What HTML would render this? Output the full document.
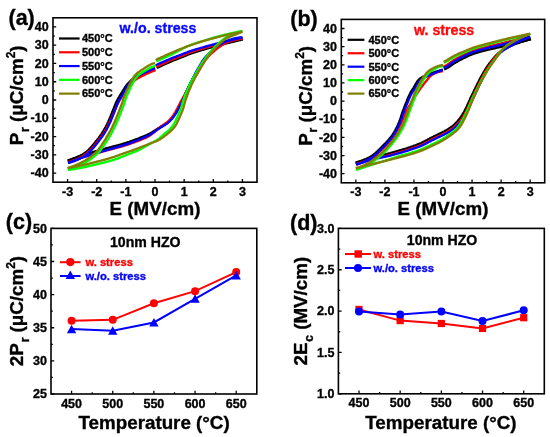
<!DOCTYPE html>
<html><head><meta charset="utf-8"><title>P-E hysteresis</title>
<style>
html,body{margin:0;padding:0;background:#fff;}
body{width:550px;height:437px;overflow:hidden;font-family:"Liberation Sans",sans-serif;}
svg{display:block;will-change:transform;}
</style></head><body>
<svg width="550" height="437" viewBox="0 0 550 437" font-family='"Liberation Sans", sans-serif'>
<rect width="550" height="437" fill="#fff"/>
<defs><clipPath id="ca"><rect x="53" y="17.8" width="204" height="164.4"/></clipPath><clipPath id="cb"><rect x="341.3" y="19.4" width="203.4" height="163.4"/></clipPath></defs>
<rect x="53" y="17.8" width="204" height="164.4" fill="none" stroke="#000" stroke-width="1.6"/>
<path d="M67.57,182.2v-3.2M96.71,182.2v-3.2M125.86,182.2v-3.2M155,182.2v-3.2M184.14,182.2v-3.2M213.29,182.2v-3.2M242.43,182.2v-3.2M82.14,182.2v-1.8M111.29,182.2v-1.8M140.43,182.2v-1.8M169.57,182.2v-1.8M198.71,182.2v-1.8M227.86,182.2v-1.8M53,173.07h3.2M53,154.8h3.2M53,136.53h3.2M53,118.27h3.2M53,100h3.2M53,81.73h3.2M53,63.47h3.2M53,45.2h3.2M53,26.93h3.2M53,163.93h1.8M53,145.67h1.8M53,127.4h1.8M53,109.13h1.8M53,90.87h1.8M53,72.6h1.8M53,54.33h1.8M53,36.07h1.8" stroke="#000" stroke-width="1.3" fill="none"/>
<text x="48.7" y="177.27" font-size="12.5" text-anchor="end" fill="#000" stroke="#000" stroke-width="0.35" font-weight="bold">-40</text>
<text x="48.7" y="159" font-size="12.5" text-anchor="end" fill="#000" stroke="#000" stroke-width="0.35" font-weight="bold">-30</text>
<text x="48.7" y="140.73" font-size="12.5" text-anchor="end" fill="#000" stroke="#000" stroke-width="0.35" font-weight="bold">-20</text>
<text x="48.7" y="122.47" font-size="12.5" text-anchor="end" fill="#000" stroke="#000" stroke-width="0.35" font-weight="bold">-10</text>
<text x="48.7" y="104.2" font-size="12.5" text-anchor="end" fill="#000" stroke="#000" stroke-width="0.35" font-weight="bold">0</text>
<text x="48.7" y="85.93" font-size="12.5" text-anchor="end" fill="#000" stroke="#000" stroke-width="0.35" font-weight="bold">10</text>
<text x="48.7" y="67.67" font-size="12.5" text-anchor="end" fill="#000" stroke="#000" stroke-width="0.35" font-weight="bold">20</text>
<text x="48.7" y="49.4" font-size="12.5" text-anchor="end" fill="#000" stroke="#000" stroke-width="0.35" font-weight="bold">30</text>
<text x="48.7" y="31.13" font-size="12.5" text-anchor="end" fill="#000" stroke="#000" stroke-width="0.35" font-weight="bold">40</text>
<text x="67.57" y="195.8" font-size="12.5" text-anchor="middle" fill="#000" stroke="#000" stroke-width="0.35" font-weight="bold">-3</text>
<text x="96.71" y="195.8" font-size="12.5" text-anchor="middle" fill="#000" stroke="#000" stroke-width="0.35" font-weight="bold">-2</text>
<text x="125.86" y="195.8" font-size="12.5" text-anchor="middle" fill="#000" stroke="#000" stroke-width="0.35" font-weight="bold">-1</text>
<text x="155" y="195.8" font-size="12.5" text-anchor="middle" fill="#000" stroke="#000" stroke-width="0.35" font-weight="bold">0</text>
<text x="184.14" y="195.8" font-size="12.5" text-anchor="middle" fill="#000" stroke="#000" stroke-width="0.35" font-weight="bold">1</text>
<text x="213.29" y="195.8" font-size="12.5" text-anchor="middle" fill="#000" stroke="#000" stroke-width="0.35" font-weight="bold">2</text>
<text x="242.43" y="195.8" font-size="12.5" text-anchor="middle" fill="#000" stroke="#000" stroke-width="0.35" font-weight="bold">3</text>
<rect x="341.3" y="19.4" width="203.4" height="163.4" fill="none" stroke="#000" stroke-width="1.6"/>
<path d="M355.83,182.8v-3.2M384.89,182.8v-3.2M413.94,182.8v-3.2M443,182.8v-3.2M472.06,182.8v-3.2M501.11,182.8v-3.2M530.17,182.8v-3.2M370.36,182.8v-1.8M399.41,182.8v-1.8M428.47,182.8v-1.8M457.53,182.8v-1.8M486.59,182.8v-1.8M515.64,182.8v-1.8M341.3,173.72h3.2M341.3,155.57h3.2M341.3,137.41h3.2M341.3,119.26h3.2M341.3,101.1h3.2M341.3,82.94h3.2M341.3,64.79h3.2M341.3,46.63h3.2M341.3,28.48h3.2M341.3,164.64h1.8M341.3,146.49h1.8M341.3,128.33h1.8M341.3,110.18h1.8M341.3,92.02h1.8M341.3,73.87h1.8M341.3,55.71h1.8M341.3,37.56h1.8" stroke="#000" stroke-width="1.3" fill="none"/>
<text x="337" y="177.92" font-size="12.5" text-anchor="end" fill="#000" stroke="#000" stroke-width="0.35" font-weight="bold">-40</text>
<text x="337" y="159.77" font-size="12.5" text-anchor="end" fill="#000" stroke="#000" stroke-width="0.35" font-weight="bold">-30</text>
<text x="337" y="141.61" font-size="12.5" text-anchor="end" fill="#000" stroke="#000" stroke-width="0.35" font-weight="bold">-20</text>
<text x="337" y="123.46" font-size="12.5" text-anchor="end" fill="#000" stroke="#000" stroke-width="0.35" font-weight="bold">-10</text>
<text x="337" y="105.3" font-size="12.5" text-anchor="end" fill="#000" stroke="#000" stroke-width="0.35" font-weight="bold">0</text>
<text x="337" y="87.14" font-size="12.5" text-anchor="end" fill="#000" stroke="#000" stroke-width="0.35" font-weight="bold">10</text>
<text x="337" y="68.99" font-size="12.5" text-anchor="end" fill="#000" stroke="#000" stroke-width="0.35" font-weight="bold">20</text>
<text x="337" y="50.83" font-size="12.5" text-anchor="end" fill="#000" stroke="#000" stroke-width="0.35" font-weight="bold">30</text>
<text x="337" y="32.68" font-size="12.5" text-anchor="end" fill="#000" stroke="#000" stroke-width="0.35" font-weight="bold">40</text>
<text x="355.83" y="196.4" font-size="12.5" text-anchor="middle" fill="#000" stroke="#000" stroke-width="0.35" font-weight="bold">-3</text>
<text x="384.89" y="196.4" font-size="12.5" text-anchor="middle" fill="#000" stroke="#000" stroke-width="0.35" font-weight="bold">-2</text>
<text x="413.94" y="196.4" font-size="12.5" text-anchor="middle" fill="#000" stroke="#000" stroke-width="0.35" font-weight="bold">-1</text>
<text x="443" y="196.4" font-size="12.5" text-anchor="middle" fill="#000" stroke="#000" stroke-width="0.35" font-weight="bold">0</text>
<text x="472.06" y="196.4" font-size="12.5" text-anchor="middle" fill="#000" stroke="#000" stroke-width="0.35" font-weight="bold">1</text>
<text x="501.11" y="196.4" font-size="12.5" text-anchor="middle" fill="#000" stroke="#000" stroke-width="0.35" font-weight="bold">2</text>
<text x="530.17" y="196.4" font-size="12.5" text-anchor="middle" fill="#000" stroke="#000" stroke-width="0.35" font-weight="bold">3</text>
<rect x="51" y="228.4" width="205.8" height="165.6" fill="none" stroke="#000" stroke-width="1.6"/>
<path d="M71.58,394v-3.2M112.74,394v-3.2M153.9,394v-3.2M195.06,394v-3.2M236.22,394v-3.2M92.16,394v-1.8M133.32,394v-1.8M174.48,394v-1.8M215.64,394v-1.8M51,394h3.2M51,360.88h3.2M51,327.76h3.2M51,294.64h3.2M51,261.52h3.2M51,228.4h3.2M51,377.44h1.8M51,344.32h1.8M51,311.2h1.8M51,278.08h1.8M51,244.96h1.8" stroke="#000" stroke-width="1.3" fill="none"/>
<text x="47" y="398.2" font-size="12.5" text-anchor="end" fill="#000" stroke="#000" stroke-width="0.35" font-weight="bold">25</text>
<text x="47" y="365.08" font-size="12.5" text-anchor="end" fill="#000" stroke="#000" stroke-width="0.35" font-weight="bold">30</text>
<text x="47" y="331.96" font-size="12.5" text-anchor="end" fill="#000" stroke="#000" stroke-width="0.35" font-weight="bold">35</text>
<text x="47" y="298.84" font-size="12.5" text-anchor="end" fill="#000" stroke="#000" stroke-width="0.35" font-weight="bold">40</text>
<text x="47" y="265.72" font-size="12.5" text-anchor="end" fill="#000" stroke="#000" stroke-width="0.35" font-weight="bold">45</text>
<text x="47" y="232.6" font-size="12.5" text-anchor="end" fill="#000" stroke="#000" stroke-width="0.35" font-weight="bold">50</text>
<text x="71.58" y="407.6" font-size="12.5" text-anchor="middle" fill="#000" stroke="#000" stroke-width="0.35" font-weight="bold">450</text>
<text x="112.74" y="407.6" font-size="12.5" text-anchor="middle" fill="#000" stroke="#000" stroke-width="0.35" font-weight="bold">500</text>
<text x="153.9" y="407.6" font-size="12.5" text-anchor="middle" fill="#000" stroke="#000" stroke-width="0.35" font-weight="bold">550</text>
<text x="195.06" y="407.6" font-size="12.5" text-anchor="middle" fill="#000" stroke="#000" stroke-width="0.35" font-weight="bold">600</text>
<text x="236.22" y="407.6" font-size="12.5" text-anchor="middle" fill="#000" stroke="#000" stroke-width="0.35" font-weight="bold">650</text>
<rect x="338.4" y="228.4" width="205.9" height="165.4" fill="none" stroke="#000" stroke-width="1.6"/>
<path d="M358.99,393.8v-3.2M400.17,393.8v-3.2M441.35,393.8v-3.2M482.53,393.8v-3.2M523.71,393.8v-3.2M379.58,393.8v-1.8M420.76,393.8v-1.8M461.94,393.8v-1.8M503.12,393.8v-1.8M338.4,393.8h3.2M338.4,352.45h3.2M338.4,311.1h3.2M338.4,269.75h3.2M338.4,228.4h3.2M338.4,373.12h1.8M338.4,331.77h1.8M338.4,290.43h1.8M338.4,249.08h1.8" stroke="#000" stroke-width="1.3" fill="none"/>
<text x="334.4" y="398" font-size="12.5" text-anchor="end" fill="#000" stroke="#000" stroke-width="0.35" font-weight="bold">1.0</text>
<text x="334.4" y="356.65" font-size="12.5" text-anchor="end" fill="#000" stroke="#000" stroke-width="0.35" font-weight="bold">1.5</text>
<text x="334.4" y="315.3" font-size="12.5" text-anchor="end" fill="#000" stroke="#000" stroke-width="0.35" font-weight="bold">2.0</text>
<text x="334.4" y="273.95" font-size="12.5" text-anchor="end" fill="#000" stroke="#000" stroke-width="0.35" font-weight="bold">2.5</text>
<text x="334.4" y="232.6" font-size="12.5" text-anchor="end" fill="#000" stroke="#000" stroke-width="0.35" font-weight="bold">3.0</text>
<text x="358.99" y="407.4" font-size="12.5" text-anchor="middle" fill="#000" stroke="#000" stroke-width="0.35" font-weight="bold">450</text>
<text x="400.17" y="407.4" font-size="12.5" text-anchor="middle" fill="#000" stroke="#000" stroke-width="0.35" font-weight="bold">500</text>
<text x="441.35" y="407.4" font-size="12.5" text-anchor="middle" fill="#000" stroke="#000" stroke-width="0.35" font-weight="bold">550</text>
<text x="482.53" y="407.4" font-size="12.5" text-anchor="middle" fill="#000" stroke="#000" stroke-width="0.35" font-weight="bold">600</text>
<text x="523.71" y="407.4" font-size="12.5" text-anchor="middle" fill="#000" stroke="#000" stroke-width="0.35" font-weight="bold">650</text>
<text x="8.5" y="25.4" font-size="21.5" text-anchor="start" fill="#000" stroke="#000" stroke-width="0.35" font-weight="bold">(a)</text>
<text x="290.3" y="26" font-size="21.5" text-anchor="start" fill="#000" stroke="#000" stroke-width="0.35" font-weight="bold">(b)</text>
<text x="5.8" y="229.4" font-size="21.5" text-anchor="start" fill="#000" stroke="#000" stroke-width="0.35" font-weight="bold">(c)</text>
<text x="290" y="229.6" font-size="21.5" text-anchor="start" fill="#000" stroke="#000" stroke-width="0.35" font-weight="bold">(d)</text>
<text x="155" y="214.8" font-size="18.8" text-anchor="middle" fill="#000" stroke="#000" stroke-width="0.35" font-weight="bold">E (MV/cm)</text>
<text x="443" y="214.8" font-size="18.8" text-anchor="middle" fill="#000" stroke="#000" stroke-width="0.35" font-weight="bold">E (MV/cm)</text>
<text x="154.1" y="428.6" font-size="18.8" text-anchor="middle" fill="#000" stroke="#000" stroke-width="0.35" font-weight="bold">Temperature (°C)</text>
<text x="440.9" y="428.6" font-size="18.8" text-anchor="middle" fill="#000" stroke="#000" stroke-width="0.35" font-weight="bold">Temperature (°C)</text>
<text transform="translate(23.2,95.3) rotate(-90)" x="0" y="0" font-size="18.8" text-anchor="middle" font-weight="bold" stroke="#000" stroke-width="0.35">P<tspan font-size="12" dx="0.8" dy="5.5">r</tspan><tspan dy="-5.5"> (μC/cm</tspan><tspan font-size="12" dy="-8">2</tspan><tspan dy="8">)</tspan></text>
<text transform="translate(311.6,95.8) rotate(-90)" x="0" y="0" font-size="18.8" text-anchor="middle" font-weight="bold" stroke="#000" stroke-width="0.35">P<tspan font-size="12" dx="0.8" dy="5.5">r</tspan><tspan dy="-5.5"> (μC/cm</tspan><tspan font-size="12" dy="-8">2</tspan><tspan dy="8">)</tspan></text>
<text transform="translate(23.2,311) rotate(-90)" x="0" y="0" font-size="18.8" text-anchor="middle" font-weight="bold" stroke="#000" stroke-width="0.35">2P<tspan font-size="12" dx="0.8" dy="5.5">r</tspan><tspan dy="-5.5"> (μC/cm</tspan><tspan font-size="12" dy="-8">2</tspan><tspan dy="8">)</tspan></text>
<text transform="translate(307.2,311.2) rotate(-90)" x="0" y="0" font-size="18.8" text-anchor="middle" font-weight="bold" stroke="#000" stroke-width="0.35">2E<tspan font-size="12" dx="0.8" dy="5.5">c</tspan><tspan dy="-5.5"> (MV/cm)</tspan></text>
<text x="119.6" y="33" font-size="14.2" text-anchor="start" fill="#0a0aff" stroke="#0a0aff" stroke-width="0.35" font-weight="bold">w./o. stress</text>
<text x="414" y="35.2" font-size="14.2" text-anchor="start" fill="#ff0a0a" stroke="#ff0a0a" stroke-width="0.35" font-weight="bold">w. stress</text>
<text x="110" y="247.3" font-size="14.1" text-anchor="start" fill="#000" stroke="#000" stroke-width="0.35" font-weight="bold">10nm HZO</text>
<text x="406.8" y="245.3" font-size="14.1" text-anchor="start" fill="#000" stroke="#000" stroke-width="0.35" font-weight="bold">10nm HZO</text>
<path d="M59,38.5h20.6" stroke="#000000" stroke-width="2.2"/>
<text x="82" y="42.3" font-size="11" text-anchor="start" fill="#000" stroke="#000" stroke-width="0.35" font-weight="bold">450°C</text>
<path d="M59,52.28h20.6" stroke="#ff0000" stroke-width="2.2"/>
<text x="82" y="56.08" font-size="11" text-anchor="start" fill="#000" stroke="#000" stroke-width="0.35" font-weight="bold">500°C</text>
<path d="M59,66.06h20.6" stroke="#0000ff" stroke-width="2.2"/>
<text x="82" y="69.86" font-size="11" text-anchor="start" fill="#000" stroke="#000" stroke-width="0.35" font-weight="bold">550°C</text>
<path d="M59,79.84h20.6" stroke="#00ff00" stroke-width="2.2"/>
<text x="82" y="83.64" font-size="11" text-anchor="start" fill="#000" stroke="#000" stroke-width="0.35" font-weight="bold">600°C</text>
<path d="M59,93.62h20.6" stroke="#808000" stroke-width="2.2"/>
<text x="82" y="97.42" font-size="11" text-anchor="start" fill="#000" stroke="#000" stroke-width="0.35" font-weight="bold">650°C</text>
<path d="M347.6,39.8h16.8" stroke="#000000" stroke-width="2.2"/>
<text x="368.4" y="43.6" font-size="11" text-anchor="start" fill="#000" stroke="#000" stroke-width="0.35" font-weight="bold">450°C</text>
<path d="M347.6,53.25h16.8" stroke="#ff0000" stroke-width="2.2"/>
<text x="368.4" y="57.05" font-size="11" text-anchor="start" fill="#000" stroke="#000" stroke-width="0.35" font-weight="bold">500°C</text>
<path d="M347.6,66.7h16.8" stroke="#0000ff" stroke-width="2.2"/>
<text x="368.4" y="70.5" font-size="11" text-anchor="start" fill="#000" stroke="#000" stroke-width="0.35" font-weight="bold">550°C</text>
<path d="M347.6,80.15h16.8" stroke="#00ff00" stroke-width="2.2"/>
<text x="368.4" y="83.95" font-size="11" text-anchor="start" fill="#000" stroke="#000" stroke-width="0.35" font-weight="bold">600°C</text>
<path d="M347.6,93.6h16.8" stroke="#808000" stroke-width="2.2"/>
<text x="368.4" y="97.4" font-size="11" text-anchor="start" fill="#000" stroke="#000" stroke-width="0.35" font-weight="bold">650°C</text>
<g clip-path="url(#ca)"><path d="M156.8,68.0 157.4,67.7 158.0,67.5 158.6,67.2 159.2,66.9 159.7,66.6 160.3,66.4 160.9,66.1 161.4,65.8 162.0,65.6 162.6,65.3 163.2,65.0 163.8,64.7 164.3,64.5 164.9,64.2 165.5,63.9 166.1,63.7 166.6,63.4 167.2,63.2 167.8,62.9 168.4,62.7 168.9,62.4 169.5,62.1 170.1,61.9 170.6,61.7 171.2,61.4 171.8,61.2 172.3,60.9 172.9,60.7 173.5,60.5 174.1,60.2 174.6,60.0 175.2,59.8 175.8,59.6 176.4,59.3 176.9,59.1 177.5,58.9 178.1,58.7 178.7,58.4 179.3,58.2 179.8,58.0 180.4,57.7 181.0,57.5 181.6,57.3 182.2,57.0 182.8,56.8 183.4,56.6 183.9,56.3 184.5,56.1 185.1,55.8 185.7,55.6 186.3,55.4 186.8,55.1 187.4,54.9 188.0,54.7 188.5,54.5 189.1,54.2 189.7,54.0 190.2,53.8 190.8,53.6 191.4,53.4 191.9,53.2 192.5,53.0 193.1,52.9 193.6,52.7 194.2,52.5 194.8,52.3 195.4,52.1 195.9,51.9 196.5,51.7 197.1,51.6 197.7,51.4 198.2,51.2 198.8,51.0 199.4,50.9 200.0,50.7 200.6,50.5 201.1,50.3 201.7,50.2 202.3,50.0 202.9,49.8 203.4,49.7 204.0,49.5 204.6,49.3 205.2,49.2 205.8,49.0 206.3,48.8 206.9,48.7 207.5,48.5 208.1,48.3 208.7,48.2 209.2,48.0 209.8,47.8 210.4,47.7 211.0,47.5 211.6,47.4 212.1,47.2 212.7,47.0 213.3,46.9 213.9,46.7 214.5,46.6 215.0,46.4 215.6,46.2 216.2,46.1 216.8,45.9 217.4,45.8 217.9,45.6 218.5,45.5 219.1,45.3 219.7,45.1 220.2,45.0 220.8,44.8 221.4,44.7 222.0,44.5 222.6,44.4 223.1,44.2 223.7,44.1 224.3,43.9 224.9,43.8 225.5,43.6 226.0,43.5 226.6,43.3 227.2,43.2 227.8,43.1 228.4,42.9 228.9,42.8 229.5,42.6 230.1,42.5 230.7,42.3 231.3,42.2 231.8,42.1 232.4,41.9 233.0,41.8 233.6,41.6 234.2,41.5 234.7,41.4 235.3,41.2 235.9,41.1 236.5,40.9 237.0,40.8 237.6,40.7 238.2,40.5 238.8,40.4 239.4,40.3 239.9,40.1 240.5,40.0 241.1,39.9 241.7,39.7 242.3,39.6 242.8,39.5" fill="none" stroke="#000000" stroke-width="2.3" stroke-linejoin="round"/>
<path d="M67.6,160.6 68.2,160.5 68.7,160.4 69.3,160.2 69.9,160.1 70.5,159.9 71.1,159.7 71.7,159.5 72.2,159.3 72.8,159.1 73.4,158.9 74.0,158.7 74.6,158.4 75.1,158.2 75.7,158.0 76.3,157.7 76.9,157.5 77.5,157.2 78.1,156.9 78.6,156.6 79.2,156.3 79.8,156.0 80.4,155.7 81.0,155.4 81.6,155.0 82.1,154.7 82.7,154.3 83.3,153.9 83.9,153.5 84.5,153.1 85.1,152.7 85.6,152.3 86.2,151.8 86.8,151.4 87.4,150.9 88.0,150.3 88.6,149.8 89.1,149.2 89.7,148.6 90.3,148.0 90.9,147.4 91.5,146.7 92.1,146.0 92.6,145.4 93.2,144.7 93.8,144.0 94.4,143.3 95.0,142.5 95.5,141.8 96.1,141.1 96.7,140.4 97.3,139.6 97.9,138.9 98.5,138.1 99.0,137.4 99.6,136.6 100.2,135.8 100.8,134.9 101.4,134.1 102.0,133.2 102.5,132.3 103.1,131.4 103.7,130.4 104.3,129.5 104.9,128.4 105.5,127.3 106.0,126.2 106.6,125.1 107.2,123.9 107.8,122.6 108.4,121.4 109.0,120.1 109.5,118.8 110.1,117.4 110.7,115.9 111.3,114.4 111.9,113.0 112.5,111.5 113.0,110.0 113.6,108.6 114.2,107.1 114.8,105.7 115.4,104.2 115.9,102.9 116.5,101.6 117.1,100.5 117.7,99.4 118.3,98.3 118.9,97.3 119.4,96.4 120.0,95.4 120.6,94.5 121.2,93.5 121.8,92.6 122.4,91.7 122.9,90.7 123.5,89.8 124.1,88.9 124.7,87.9 125.3,87.0 125.9,86.2 126.4,85.4 127.0,84.6 127.6,83.9 128.2,83.3 128.8,82.7 129.4,82.1 129.9,81.5 130.5,80.9 131.1,80.4 131.7,79.9 132.3,79.4 132.9,78.9 133.4,78.4 134.0,78.0 134.6,77.6 135.2,77.2 135.8,76.9 136.3,76.5 136.9,76.2 137.5,75.9 138.1,75.6 138.7,75.3 139.3,75.0 139.8,74.7 140.4,74.5 141.0,74.2 141.6,73.9 142.2,73.7 142.8,73.4 143.3,73.2 143.9,72.9 144.5,72.6 145.1,72.4 145.7,72.1 146.3,71.9 146.8,71.6 147.4,71.3 148.0,71.1 148.6,70.8 149.2,70.6 149.8,70.3 150.3,70.1 150.9,69.8 151.5,69.6 152.1,69.4 152.7,69.1 153.3,68.9 153.8,68.7 154.4,68.4 155.0,68.2" fill="none" stroke="#000000" stroke-width="2.3" stroke-linejoin="round"/>
<path d="M67.6,160.6 68.2,160.4 68.7,160.2 69.3,160.0 69.9,159.7 70.5,159.5 71.1,159.3 71.7,159.1 72.2,158.9 72.8,158.6 73.4,158.4 74.0,158.2 74.6,158.0 75.1,157.8 75.7,157.6 76.3,157.4 76.9,157.1 77.5,156.9 78.1,156.7 78.6,156.5 79.2,156.3 79.8,156.1 80.4,155.9 81.0,155.7 81.6,155.5 82.1,155.3 82.7,155.2 83.3,155.0 83.9,154.8 84.5,154.6 85.1,154.4 85.6,154.2 86.2,154.0 86.8,153.9 87.4,153.7 88.0,153.5 88.6,153.3 89.1,153.2 89.7,153.0 90.3,152.8 90.9,152.6 91.5,152.5 92.1,152.3 92.6,152.1 93.2,152.0 93.8,151.8 94.4,151.6 95.0,151.5 95.5,151.3 96.1,151.1 96.7,151.0 97.3,150.8 97.9,150.6 98.5,150.5 99.0,150.3 99.6,150.1 100.2,150.0 100.8,149.8 101.4,149.6 102.0,149.5 102.5,149.3 103.1,149.2 103.7,149.0 104.3,148.8 104.9,148.7 105.5,148.5 106.0,148.4 106.6,148.2 107.2,148.1 107.8,147.9 108.4,147.8 109.0,147.6 109.5,147.5 110.1,147.3 110.7,147.2 111.3,147.0 111.9,146.9 112.5,146.7 113.0,146.5 113.6,146.4 114.2,146.2 114.8,146.1 115.4,145.9 115.9,145.8 116.5,145.6 117.1,145.5 117.7,145.3 118.3,145.2 118.9,145.0 119.4,144.8 120.0,144.7 120.6,144.5 121.2,144.3 121.8,144.2 122.4,144.0 122.9,143.8 123.5,143.6 124.1,143.5 124.7,143.3 125.3,143.1 125.9,142.9 126.4,142.7 127.0,142.6 127.6,142.4 128.2,142.2 128.8,142.0 129.4,141.8 129.9,141.6 130.5,141.4 131.1,141.2 131.7,141.0 132.3,140.7 132.9,140.5 133.4,140.3 134.0,140.1 134.6,139.9 135.2,139.7 135.8,139.4 136.3,139.2 136.9,139.0 137.5,138.8 138.1,138.6 138.7,138.3 139.3,138.1 139.8,137.9 140.4,137.6 141.0,137.4 141.6,137.2 142.2,136.9 142.8,136.7 143.3,136.5 143.9,136.2 144.5,136.0 145.1,135.7 145.7,135.5 146.3,135.2 146.8,135.0 147.4,134.7 148.0,134.4 148.6,134.2 149.2,133.9 149.8,133.6 150.3,133.3 150.9,133.0 151.5,132.6 152.1,132.3 152.7,131.9 153.3,131.6 153.8,131.2 154.4,130.8 155.0,130.4 155.6,130.0 156.2,129.6 156.7,129.3 157.3,128.9 157.9,128.5 158.5,128.1 159.1,127.8 159.7,127.4 160.2,127.1 160.8,126.7 161.4,126.4 162.0,126.1 162.6,125.8 163.2,125.4 163.7,125.1 164.3,124.7 164.9,124.4 165.5,124.0 166.1,123.6 166.7,123.2 167.2,122.7 167.8,122.2 168.4,121.7 169.0,121.2 169.6,120.7 170.2,120.1 170.7,119.5 171.3,118.9 171.9,118.2 172.5,117.4 173.1,116.7 173.7,115.9 174.2,115.0 174.8,114.1 175.4,113.2 176.0,112.3 176.6,111.3 177.1,110.3 177.7,109.2 178.3,108.1 178.9,107.0 179.5,105.8 180.1,104.7 180.6,103.5 181.2,102.4 181.8,101.2 182.4,100.0 183.0,98.8 183.6,97.6 184.1,96.3 184.7,95.1 185.3,93.8 185.9,92.5 186.5,91.2 187.1,90.0 187.6,88.7 188.2,87.5 188.8,86.3 189.4,85.1 190.0,83.9 190.6,82.8 191.2,81.7 191.8,80.6 192.4,79.5 193.0,78.4 193.6,77.4 194.2,76.3 194.8,75.3 195.5,74.3 196.1,73.2 196.7,72.2 197.3,71.2 197.9,70.2 198.5,69.2 199.1,68.3 199.7,67.3 200.3,66.3 200.9,65.3 201.5,64.3 202.1,63.3 202.7,62.4 203.3,61.5 203.9,60.6 204.5,59.8 205.0,59.1 205.6,58.4 206.2,57.7 206.8,57.1 207.4,56.5 208.0,55.8 208.5,55.2 209.1,54.7 209.7,54.1 210.3,53.6 210.9,53.0 211.4,52.5 212.0,52.0 212.6,51.5 213.2,51.0 213.8,50.5 214.4,50.1 214.9,49.6 215.5,49.1 216.1,48.7 216.7,48.2 217.3,47.8 217.9,47.4 218.4,47.0 219.0,46.6 219.6,46.2 220.2,45.8 220.7,45.5 221.3,45.1 221.9,44.8 222.5,44.5 223.0,44.2 223.6,43.9 224.2,43.6 224.8,43.3 225.4,43.1 225.9,42.8 226.5,42.5 227.1,42.3 227.7,42.0 228.2,41.8 228.8,41.5 229.4,41.3 230.0,41.1 230.5,40.9 231.1,40.7 231.7,40.5 232.2,40.4 232.8,40.2 233.4,40.1 233.9,40.0 234.5,39.8 235.1,39.7 235.7,39.6 236.2,39.5 236.8,39.4 237.4,39.3 238.0,39.2 238.5,39.1 239.1,39.0 239.7,39.0 240.2,38.9 240.8,38.8 241.4,38.8 241.9,38.8 242.5,38.7" fill="none" stroke="#000000" stroke-width="2.3" stroke-linejoin="round"/>
<path d="M156.3,66.9 156.9,66.6 157.5,66.4 158.1,66.1 158.6,65.8 159.2,65.5 159.8,65.3 160.4,65.0 160.9,64.7 161.5,64.4 162.1,64.2 162.7,63.9 163.3,63.6 163.8,63.4 164.4,63.1 165.0,62.8 165.6,62.6 166.1,62.3 166.7,62.0 167.3,61.8 167.9,61.5 168.4,61.3 169.0,61.0 169.6,60.7 170.2,60.5 170.7,60.3 171.3,60.0 171.9,59.8 172.5,59.5 173.0,59.3 173.6,59.1 174.2,58.8 174.8,58.6 175.3,58.4 175.9,58.1 176.5,57.9 177.1,57.7 177.6,57.5 178.2,57.2 178.8,57.0 179.4,56.8 180.0,56.5 180.6,56.3 181.1,56.1 181.7,55.8 182.3,55.6 182.9,55.4 183.5,55.1 184.0,54.9 184.6,54.6 185.2,54.4 185.8,54.2 186.4,53.9 186.9,53.7 187.5,53.5 188.1,53.2 188.7,53.0 189.2,52.8 189.8,52.6 190.4,52.4 190.9,52.2 191.5,52.0 192.1,51.8 192.7,51.6 193.3,51.4 193.8,51.2 194.4,51.1 195.0,50.9 195.6,50.7 196.1,50.5 196.7,50.3 197.3,50.1 197.9,50.0 198.5,49.8 199.0,49.6 199.6,49.4 200.2,49.3 200.8,49.1 201.4,48.9 201.9,48.8 202.5,48.6 203.1,48.4 203.7,48.2 204.3,48.1 204.8,47.9 205.4,47.7 206.0,47.6 206.6,47.4 207.2,47.3 207.7,47.1 208.3,46.9 208.9,46.8 209.5,46.6 210.1,46.4 210.6,46.3 211.2,46.1 211.8,45.9 212.4,45.8 213.0,45.6 213.5,45.5 214.1,45.3 214.7,45.1 215.3,45.0 215.9,44.8 216.4,44.7 217.0,44.5 217.6,44.3 218.2,44.2 218.8,44.0 219.3,43.9 219.9,43.7 220.5,43.6 221.1,43.4 221.7,43.3 222.2,43.1 222.8,43.0 223.4,42.8 224.0,42.7 224.6,42.5 225.2,42.4 225.7,42.2 226.3,42.1 226.9,41.9 227.5,41.8 228.1,41.6 228.6,41.5 229.2,41.4 229.8,41.2 230.4,41.1 231.0,40.9 231.5,40.8 232.1,40.6 232.7,40.5 233.3,40.4 233.9,40.2 234.4,40.1 235.0,39.9 235.6,39.8 236.2,39.7 236.8,39.5 237.3,39.4 237.9,39.3 238.5,39.1 239.1,39.0 239.7,38.9 240.3,38.7 240.8,38.6 241.4,38.5 242.0,38.3 242.6,38.2" fill="none" stroke="#ff0000" stroke-width="2.3" stroke-linejoin="round"/>
<path d="M67.9,162.1 68.5,162.0 69.1,161.8 69.7,161.7 70.3,161.5 70.9,161.3 71.5,161.1 72.1,160.9 72.7,160.7 73.3,160.5 73.9,160.3 74.5,160.0 75.1,159.8 75.7,159.6 76.3,159.3 76.9,159.1 77.5,158.8 78.1,158.5 78.7,158.2 79.3,157.9 79.9,157.6 80.5,157.3 81.1,157.0 81.7,156.6 82.3,156.3 82.9,155.9 83.5,155.5 84.1,155.1 84.7,154.7 85.3,154.3 85.9,153.9 86.5,153.4 87.1,152.9 87.7,152.4 88.3,151.9 88.9,151.4 89.5,150.8 90.1,150.2 90.7,149.6 91.3,148.9 91.9,148.3 92.5,147.6 93.1,147.0 93.7,146.3 94.3,145.6 94.9,144.8 95.4,144.1 96.0,143.4 96.6,142.7 97.2,141.9 97.8,141.2 98.4,140.5 98.9,139.7 99.5,139.0 100.1,138.2 100.7,137.4 101.3,136.5 101.9,135.7 102.5,134.8 103.1,134.0 103.7,133.0 104.3,132.1 104.8,131.1 105.4,130.1 106.0,129.1 106.6,128.0 107.2,126.8 107.8,125.6 108.4,124.4 109.0,123.2 109.6,121.9 110.2,120.6 110.8,119.3 111.5,117.9 112.1,116.5 112.7,115.0 113.4,113.6 114.0,112.1 114.6,110.7 115.3,109.3 115.9,107.8 116.5,106.4 117.1,105.0 117.8,103.7 118.4,102.5 119.0,101.4 119.6,100.4 120.2,99.4 120.8,98.5 121.4,97.5 122.0,96.6 122.6,95.7 123.3,94.8 123.9,93.9 124.5,93.0 125.2,92.1 125.7,91.2 126.3,90.2 126.8,89.3 127.4,88.5 127.9,87.6 128.5,86.9 129.0,86.2 129.5,85.6 130.0,85.0 130.6,84.4 131.1,83.8 131.6,83.2 132.2,82.7 132.7,82.2 133.3,81.7 133.8,81.2 134.3,80.8 134.8,80.3 135.4,79.9 135.9,79.5 136.4,79.2 137.0,78.8 137.5,78.5 138.0,78.2 138.6,77.9 139.1,77.6 139.7,77.3 140.2,77.0 140.8,76.7 141.3,76.4 141.9,76.1 142.5,75.9 143.0,75.6 143.6,75.3 144.2,75.1 144.8,74.8 145.3,74.5 145.9,74.2 146.5,74.0 147.1,73.7 147.6,73.4 148.2,73.2 148.8,72.9 149.4,72.7 150.0,72.4 150.5,72.2 151.1,71.9 151.7,71.7 152.3,71.5 152.8,71.2 153.4,71.0 154.0,70.8 154.6,70.5 155.1,70.3 155.7,70.1" fill="none" stroke="#ff0000" stroke-width="2.3" stroke-linejoin="round"/>
<path d="M68.4,162.7 69.0,162.5 69.5,162.2 70.1,162.0 70.7,161.8 71.3,161.6 71.9,161.3 72.4,161.1 73.0,160.9 73.6,160.7 74.2,160.5 74.7,160.3 75.3,160.1 75.9,159.8 76.5,159.6 77.1,159.4 77.6,159.2 78.2,159.0 78.8,158.8 79.4,158.6 79.9,158.4 80.5,158.2 81.1,158.0 81.7,157.8 82.3,157.6 82.8,157.4 83.4,157.2 84.0,157.1 84.6,156.9 85.1,156.7 85.7,156.5 86.3,156.3 86.9,156.2 87.5,156.0 88.0,155.8 88.6,155.6 89.2,155.4 89.8,155.3 90.3,155.1 90.9,154.9 91.5,154.8 92.1,154.6 92.7,154.4 93.2,154.3 93.8,154.1 94.4,153.9 95.0,153.7 95.6,153.6 96.2,153.4 96.7,153.2 97.3,153.1 97.9,152.9 98.5,152.7 99.1,152.6 99.7,152.4 100.2,152.2 100.8,152.1 101.4,151.9 102.0,151.8 102.5,151.6 103.1,151.4 103.7,151.3 104.3,151.1 104.9,151.0 105.4,150.8 106.0,150.7 106.6,150.5 107.2,150.3 107.8,150.2 108.3,150.0 108.9,149.9 109.5,149.7 110.1,149.6 110.7,149.4 111.3,149.3 111.8,149.1 112.4,149.0 113.0,148.8 113.6,148.7 114.2,148.5 114.8,148.4 115.3,148.2 115.9,148.1 116.5,147.9 117.1,147.7 117.7,147.6 118.3,147.4 118.9,147.3 119.4,147.1 120.0,146.9 120.6,146.8 121.2,146.6 121.8,146.4 122.4,146.3 123.0,146.1 123.6,145.9 124.2,145.8 124.7,145.6 125.3,145.4 125.9,145.2 126.5,145.0 127.1,144.8 127.7,144.6 128.3,144.4 128.9,144.3 129.5,144.1 130.1,143.9 130.7,143.6 131.2,143.4 131.8,143.2 132.4,143.0 133.0,142.8 133.6,142.6 134.2,142.4 134.8,142.2 135.4,141.9 136.0,141.7 136.5,141.5 137.1,141.3 137.7,141.1 138.3,140.8 138.9,140.6 139.5,140.4 140.1,140.1 140.7,139.9 141.2,139.7 141.8,139.4 142.4,139.2 143.0,139.0 143.6,138.7 144.2,138.5 144.8,138.3 145.4,138.0 146.0,137.8 146.5,137.5 147.1,137.2 147.7,136.9 148.3,136.5 148.8,136.2 149.4,135.8 149.9,135.4 150.5,135.1 151.1,134.7 151.6,134.3 152.2,133.8 152.8,133.4 153.3,133.0 153.9,132.5 154.4,132.0 154.9,131.6 155.5,131.1 156.0,130.7 156.5,130.2 157.1,129.7 157.6,129.3 158.1,128.8 158.7,128.4 159.2,128.0 159.7,127.5 160.3,127.1 160.8,126.7 161.3,126.3 161.9,125.9 162.4,125.5 163.0,125.1 163.5,124.7 164.1,124.3 164.6,123.9 165.2,123.6 165.8,123.2 166.3,122.7 166.9,122.3 167.5,121.8 168.0,121.3 168.6,120.8 169.2,120.2 169.7,119.7 170.3,119.1 170.8,118.4 171.4,117.8 172.0,117.0 172.5,116.3 173.1,115.5 173.7,114.6 174.2,113.8 174.8,112.9 175.4,111.9 175.9,111.0 176.5,109.9 177.1,108.8 177.6,107.7 178.2,106.6 178.8,105.5 179.4,104.3 179.9,103.2 180.5,102.0 181.2,100.9 181.8,99.7 182.5,98.6 183.2,97.4 183.9,96.2 184.5,95.0 185.2,93.7 185.9,92.5 186.5,91.3 187.2,90.0 187.9,88.8 188.5,87.6 189.2,86.5 189.9,85.3 190.5,84.2 191.2,83.1 191.9,82.0 192.5,81.0 193.2,79.9 193.9,78.9 194.5,77.9 195.2,76.9 195.9,75.9 196.5,74.9 197.2,73.9 197.8,72.9 198.3,71.8 198.9,70.8 199.5,69.8 200.1,68.8 200.6,67.8 201.2,66.8 201.8,65.8 202.4,64.8 202.9,63.8 203.5,62.9 204.1,62.0 204.6,61.1 205.2,60.4 205.7,59.6 206.3,58.9 206.8,58.3 207.4,57.6 207.9,57.0 208.5,56.4 209.1,55.8 209.6,55.2 210.2,54.6 210.8,54.1 211.3,53.5 211.9,53.0 212.5,52.5 213.0,52.0 213.6,51.5 214.2,51.0 214.7,50.5 215.3,50.0 215.9,49.6 216.4,49.1 217.0,48.7 217.6,48.2 218.1,47.8 218.7,47.4 219.3,47.0 219.8,46.6 220.4,46.2 221.0,45.8 221.5,45.5 222.1,45.1 222.6,44.8 223.2,44.5 223.8,44.2 224.3,43.9 224.9,43.6 225.5,43.3 226.1,43.0 226.6,42.7 227.2,42.5 227.8,42.2 228.3,42.0 228.9,41.7 229.5,41.5 230.0,41.2 230.6,41.0 231.1,40.8 231.7,40.6 232.3,40.5 232.8,40.3 233.4,40.1 233.9,40.0 234.5,39.9 235.1,39.7 235.7,39.6 236.2,39.5 236.8,39.4 237.4,39.2 237.9,39.1 238.5,39.0 239.1,38.9 239.7,38.8 240.2,38.8 240.8,38.7 241.4,38.6 241.9,38.6 242.5,38.5" fill="none" stroke="#ff0000" stroke-width="2.3" stroke-linejoin="round"/>
<path d="M155.6,65.3 156.2,65.0 156.7,64.8 157.3,64.5 157.9,64.2 158.5,63.9 159.1,63.7 159.7,63.4 160.2,63.2 160.8,62.9 161.4,62.6 162.0,62.4 162.6,62.1 163.2,61.8 163.7,61.6 164.3,61.3 164.9,61.1 165.5,60.8 166.1,60.6 166.7,60.3 167.2,60.0 167.8,59.8 168.4,59.6 169.0,59.3 169.6,59.1 170.2,58.8 170.7,58.6 171.3,58.4 171.9,58.1 172.5,57.9 173.1,57.7 173.7,57.5 174.2,57.2 174.8,57.0 175.4,56.8 176.0,56.6 176.6,56.4 177.1,56.1 177.7,55.9 178.3,55.7 178.9,55.5 179.5,55.3 180.1,55.0 180.6,54.8 181.2,54.6 181.8,54.3 182.4,54.1 183.0,53.9 183.6,53.6 184.1,53.4 184.7,53.2 185.3,53.0 185.9,52.7 186.5,52.5 187.1,52.3 187.6,52.1 188.2,51.8 188.8,51.6 189.4,51.4 190.0,51.2 190.6,51.0 191.1,50.8 191.7,50.6 192.3,50.5 192.9,50.3 193.5,50.1 194.1,49.9 194.6,49.7 195.2,49.5 195.8,49.4 196.4,49.2 197.0,49.0 197.5,48.8 198.1,48.7 198.7,48.5 199.3,48.3 199.9,48.2 200.5,48.0 201.0,47.8 201.6,47.7 202.2,47.5 202.8,47.3 203.4,47.2 204.0,47.0 204.5,46.9 205.1,46.7 205.7,46.5 206.3,46.4 206.9,46.2 207.5,46.1 208.0,45.9 208.6,45.7 209.2,45.6 209.8,45.4 210.4,45.3 211.0,45.1 211.5,45.0 212.1,44.8 212.7,44.6 213.3,44.5 213.9,44.3 214.5,44.2 215.0,44.0 215.6,43.9 216.2,43.7 216.8,43.6 217.4,43.4 217.9,43.3 218.5,43.1 219.1,43.0 219.7,42.8 220.3,42.7 220.9,42.5 221.4,42.4 222.0,42.2 222.6,42.1 223.2,41.9 223.8,41.8 224.4,41.7 224.9,41.5 225.5,41.4 226.1,41.2 226.7,41.1 227.3,41.0 227.9,40.8 228.4,40.7 229.0,40.5 229.6,40.4 230.2,40.3 230.8,40.1 231.4,40.0 231.9,39.9 232.5,39.7 233.1,39.6 233.7,39.5 234.3,39.3 234.9,39.2 235.4,39.1 236.0,38.9 236.6,38.8 237.2,38.7 237.8,38.5 238.3,38.4 238.9,38.3 239.5,38.2 240.1,38.0 240.7,37.9 241.3,37.8 241.8,37.7 242.4,37.5" fill="none" stroke="#0000ff" stroke-width="2.3" stroke-linejoin="round"/>
<path d="M68.1,163.0 68.7,162.8 69.3,162.7 69.9,162.5 70.6,162.3 71.2,162.2 71.8,162.0 72.4,161.8 73.0,161.5 73.6,161.3 74.2,161.1 74.8,160.9 75.4,160.6 76.0,160.4 76.6,160.1 77.2,159.9 77.8,159.6 78.4,159.3 79.1,159.0 79.7,158.7 80.3,158.4 80.9,158.0 81.5,157.7 82.1,157.3 82.7,157.0 83.3,156.6 83.9,156.2 84.6,155.8 85.2,155.4 85.8,155.0 86.4,154.5 87.0,154.1 87.6,153.6 88.2,153.1 88.8,152.5 89.5,152.0 90.1,151.4 90.7,150.8 91.3,150.1 91.9,149.5 92.5,148.8 93.1,148.1 93.7,147.5 94.3,146.8 94.9,146.1 95.5,145.3 96.0,144.6 96.6,143.9 97.2,143.2 97.8,142.4 98.4,141.7 99.0,140.9 99.5,140.2 100.1,139.4 100.7,138.6 101.3,137.8 101.9,137.0 102.5,136.1 103.1,135.3 103.7,134.4 104.3,133.4 104.9,132.5 105.5,131.5 106.1,130.5 106.7,129.4 107.3,128.3 107.8,127.1 108.4,125.9 109.0,124.7 109.6,123.5 110.2,122.2 110.8,120.9 111.3,119.5 111.9,118.1 112.5,116.6 113.1,115.1 113.6,113.7 114.2,112.2 114.8,110.7 115.3,109.3 115.9,107.8 116.5,106.4 117.0,104.9 117.6,103.6 118.1,102.4 118.7,101.3 119.2,100.2 119.8,99.2 120.3,98.2 120.9,97.2 121.5,96.3 122.0,95.3 122.6,94.4 123.2,93.5 123.7,92.5 124.3,91.6 124.8,90.6 125.4,89.6 125.9,88.7 126.4,87.8 126.9,86.9 127.4,86.1 127.9,85.3 128.4,84.6 128.9,84.0 129.4,83.3 130.0,82.7 130.5,82.0 131.0,81.4 131.5,80.9 132.1,80.3 132.6,79.8 133.2,79.3 133.7,78.9 134.3,78.4 134.9,78.0 135.4,77.6 136.0,77.2 136.5,76.8 137.1,76.5 137.7,76.1 138.2,75.8 138.8,75.5 139.4,75.2 139.9,74.9 140.5,74.6 141.1,74.3 141.6,74.0 142.2,73.7 142.8,73.4 143.3,73.2 143.9,72.9 144.5,72.6 145.1,72.4 145.7,72.1 146.3,71.9 146.8,71.6 147.4,71.3 148.0,71.1 148.6,70.8 149.2,70.6 149.8,70.3 150.3,70.1 150.9,69.8 151.5,69.6 152.1,69.4 152.7,69.1 153.3,68.9 153.8,68.7 154.4,68.4 155.0,68.2" fill="none" stroke="#0000ff" stroke-width="2.3" stroke-linejoin="round"/>
<path d="M68.4,162.9 69.0,162.6 69.6,162.4 70.2,162.2 70.8,161.9 71.3,161.7 71.9,161.5 72.5,161.3 73.1,161.0 73.6,160.8 74.2,160.6 74.8,160.4 75.4,160.1 75.9,159.9 76.5,159.7 77.1,159.5 77.7,159.3 78.2,159.1 78.8,158.8 79.4,158.6 80.0,158.4 80.5,158.2 81.1,158.0 81.7,157.8 82.2,157.6 82.8,157.4 83.4,157.2 84.0,157.0 84.5,156.8 85.1,156.6 85.7,156.4 86.3,156.3 86.8,156.1 87.4,155.9 88.0,155.7 88.6,155.5 89.2,155.3 89.7,155.2 90.3,155.0 90.9,154.8 91.5,154.6 92.0,154.4 92.6,154.3 93.2,154.1 93.8,153.9 94.4,153.7 94.9,153.5 95.5,153.4 96.1,153.2 96.7,153.0 97.3,152.8 97.8,152.7 98.4,152.5 99.0,152.3 99.6,152.1 100.2,152.0 100.7,151.8 101.3,151.6 101.9,151.5 102.5,151.3 103.0,151.1 103.6,150.9 104.2,150.8 104.8,150.6 105.3,150.5 105.9,150.3 106.5,150.1 107.1,150.0 107.7,149.8 108.2,149.6 108.8,149.5 109.4,149.3 110.0,149.2 110.6,149.0 111.1,148.8 111.7,148.7 112.3,148.5 112.9,148.4 113.5,148.2 114.0,148.0 114.6,147.9 115.2,147.7 115.8,147.6 116.4,147.4 117.0,147.2 117.5,147.1 118.1,146.9 118.7,146.7 119.3,146.5 119.9,146.4 120.5,146.2 121.0,146.0 121.6,145.9 122.2,145.7 122.8,145.5 123.4,145.3 124.0,145.1 124.6,144.9 125.1,144.8 125.7,144.6 126.3,144.4 126.9,144.2 127.5,144.0 128.1,143.8 128.7,143.6 129.2,143.4 129.8,143.2 130.4,142.9 131.0,142.7 131.6,142.5 132.2,142.3 132.7,142.1 133.3,141.9 133.9,141.6 134.5,141.4 135.1,141.2 135.7,141.0 136.2,140.7 136.8,140.5 137.4,140.3 138.0,140.0 138.6,139.8 139.2,139.5 139.7,139.3 140.3,139.1 140.9,138.8 141.5,138.6 142.1,138.3 142.6,138.1 143.2,137.9 143.8,137.6 144.4,137.4 145.0,137.1 145.6,136.9 146.2,136.6 146.7,136.3 147.3,136.0 147.9,135.8 148.5,135.5 149.1,135.2 149.7,134.8 150.2,134.5 150.8,134.2 151.4,133.8 152.0,133.5 152.6,133.1 153.2,132.7 153.7,132.3 154.3,131.9 154.9,131.5 155.5,131.1 156.0,130.7 156.6,130.3 157.2,129.9 157.7,129.5 158.3,129.1 158.9,128.7 159.4,128.4 160.0,128.0 160.6,127.6 161.1,127.3 161.7,126.9 162.3,126.6 162.8,126.2 163.4,125.9 164.0,125.5 164.6,125.2 165.2,124.8 165.8,124.4 166.4,124.0 167.0,123.6 167.6,123.1 168.1,122.6 168.7,122.1 169.3,121.6 169.9,121.0 170.5,120.4 171.1,119.8 171.7,119.2 172.3,118.5 172.9,117.7 173.5,117.0 174.1,116.1 174.6,115.3 175.2,114.4 175.8,113.5 176.4,112.6 177.0,111.6 177.6,110.5 178.2,109.4 178.8,108.3 179.3,107.2 179.9,106.1 180.5,104.9 181.1,103.8 181.7,102.6 182.2,101.4 182.8,100.2 183.3,99.0 183.9,97.7 184.5,96.5 185.0,95.2 185.6,93.9 186.1,92.6 186.7,91.3 187.2,90.1 187.8,88.8 188.3,87.5 188.9,86.3 189.4,85.1 190.0,83.9 190.5,82.8 191.1,81.6 191.7,80.5 192.2,79.4 192.8,78.3 193.3,77.2 193.9,76.1 194.4,75.1 195.0,74.0 195.5,72.9 196.1,71.9 196.7,70.9 197.3,69.9 197.9,68.9 198.5,67.9 199.0,66.9 199.6,65.9 200.2,64.9 200.8,63.8 201.4,62.9 202.0,61.9 202.5,61.0 203.1,60.1 203.7,59.3 204.3,58.5 204.9,57.8 205.5,57.1 206.1,56.4 206.7,55.8 207.2,55.2 207.8,54.6 208.4,54.0 209.0,53.4 209.6,52.8 210.2,52.3 210.8,51.7 211.3,51.2 211.9,50.7 212.5,50.2 213.1,49.7 213.7,49.2 214.3,48.8 214.8,48.3 215.4,47.8 216.0,47.4 216.6,46.9 217.2,46.5 217.8,46.1 218.4,45.6 218.9,45.2 219.5,44.9 220.1,44.5 220.7,44.1 221.3,43.8 221.9,43.4 222.5,43.1 223.1,42.8 223.6,42.5 224.2,42.2 224.8,41.9 225.4,41.7 226.0,41.4 226.6,41.1 227.2,40.8 227.7,40.6 228.3,40.3 228.9,40.1 229.5,39.9 230.1,39.7 230.7,39.5 231.3,39.3 231.9,39.1 232.4,38.9 233.0,38.8 233.6,38.6 234.2,38.5 234.8,38.4 235.4,38.2 236.0,38.1 236.5,38.0 237.1,37.9 237.7,37.8 238.3,37.7 238.9,37.6 239.5,37.5 240.1,37.4 240.6,37.4 241.2,37.3 241.8,37.3 242.4,37.2" fill="none" stroke="#0000ff" stroke-width="2.3" stroke-linejoin="round"/>
<path d="M156.3,61.4 156.8,61.2 157.4,60.9 158.0,60.6 158.6,60.4 159.2,60.1 159.7,59.8 160.3,59.6 160.9,59.3 161.5,59.0 162.1,58.8 162.7,58.5 163.2,58.2 163.8,58.0 164.4,57.7 165.0,57.4 165.6,57.2 166.2,56.9 166.7,56.6 167.3,56.4 167.9,56.1 168.5,55.8 169.1,55.6 169.6,55.3 170.2,55.1 170.8,54.8 171.4,54.6 172.0,54.3 172.5,54.1 173.1,53.8 173.7,53.5 174.2,53.2 174.8,52.9 175.3,52.6 175.9,52.3 176.5,52.0 177.0,51.7 177.6,51.4 178.1,51.1 178.7,50.8 179.2,50.5 179.8,50.2 180.3,49.9 180.9,49.6 181.5,49.3 182.0,49.0 182.6,48.7 183.1,48.4 183.7,48.1 184.3,47.9 184.8,47.6 185.4,47.3 185.9,47.0 186.5,46.7 187.1,46.4 187.6,46.2 188.2,46.0 188.8,45.8 189.4,45.6 190.0,45.3 190.5,45.1 191.1,44.9 191.7,44.7 192.3,44.5 192.9,44.3 193.4,44.1 194.0,43.9 194.6,43.7 195.2,43.5 195.8,43.3 196.3,43.1 196.9,42.9 197.5,42.7 198.1,42.5 198.7,42.3 199.2,42.1 199.8,42.0 200.4,41.8 201.0,41.6 201.6,41.4 202.1,41.2 202.7,41.0 203.3,40.8 203.9,40.7 204.5,40.5 205.1,40.3 205.6,40.1 206.2,39.9 206.8,39.8 207.4,39.6 208.0,39.4 208.5,39.2 209.1,39.1 209.7,38.9 210.3,38.7 210.9,38.6 211.4,38.4 212.0,38.2 212.6,38.1 213.2,37.9 213.8,37.7 214.3,37.6 214.9,37.4 215.5,37.2 216.1,37.1 216.7,36.9 217.3,36.7 217.8,36.6 218.4,36.4 219.0,36.3 219.6,36.1 220.2,35.9 220.7,35.8 221.3,35.6 221.9,35.5 222.5,35.3 223.1,35.2 223.7,35.0 224.2,34.9 224.8,34.7 225.4,34.6 226.0,34.5 226.6,34.3 227.1,34.2 227.7,34.0 228.3,33.9 228.9,33.8 229.5,33.6 230.1,33.5 230.6,33.3 231.2,33.2 231.8,33.1 232.4,33.0 233.0,32.8 233.6,32.7 234.1,32.6 234.7,32.4 235.3,32.3 235.9,32.2 236.5,32.1 237.0,31.9 237.6,31.8 238.2,31.7 238.8,31.6 239.4,31.5 240.0,31.3 240.5,31.2 241.1,31.1 241.7,31.0 242.3,30.9" fill="none" stroke="#00ff00" stroke-width="2.3" stroke-linejoin="round"/>
<path d="M68.0,169.5 68.6,169.4 69.2,169.2 69.8,169.1 70.4,168.9 71.0,168.7 71.6,168.5 72.2,168.3 72.8,168.1 73.4,167.9 74.0,167.7 74.6,167.5 75.2,167.2 75.8,167.0 76.4,166.7 77.0,166.5 77.6,166.2 78.2,166.0 78.8,165.7 79.4,165.4 80.0,165.2 80.6,164.9 81.2,164.6 81.8,164.3 82.4,164.0 83.0,163.7 83.6,163.4 84.2,163.1 84.8,162.8 85.4,162.4 86.0,162.1 86.6,161.8 87.2,161.4 87.8,161.0 88.4,160.6 89.0,160.3 89.6,159.9 90.2,159.4 90.9,159.0 91.5,158.6 92.1,158.1 92.7,157.7 93.3,157.2 93.9,156.7 94.5,156.2 95.1,155.7 95.7,155.2 96.3,154.6 96.9,154.1 97.5,153.5 98.2,152.9 98.8,152.2 99.5,151.5 100.1,150.7 100.7,149.9 101.3,149.1 101.9,148.3 102.5,147.4 103.1,146.5 103.7,145.7 104.3,144.8 104.9,143.9 105.5,143.0 106.1,142.1 106.7,141.2 107.3,140.2 107.9,139.3 108.5,138.3 109.1,137.4 109.7,136.3 110.3,135.3 110.9,134.3 111.5,133.2 112.1,132.1 112.7,131.0 113.2,129.8 113.8,128.6 114.4,127.4 115.0,126.2 115.6,124.9 116.2,123.6 116.8,122.3 117.4,121.0 118.0,119.6 118.6,118.2 119.2,116.8 119.7,115.3 120.3,113.8 120.9,112.3 121.5,110.8 122.1,109.3 122.7,107.7 123.3,106.1 123.9,104.5 124.4,102.7 125.0,100.9 125.6,99.1 126.2,97.5 126.7,96.0 127.3,94.7 127.9,93.4 128.4,92.1 129.0,90.9 129.6,89.6 130.2,88.3 130.8,87.0 131.4,85.8 131.9,84.6 132.5,83.5 133.1,82.5 133.6,81.5 134.2,80.5 134.8,79.5 135.3,78.7 135.9,77.9 136.4,77.3 136.9,76.7 137.4,76.2 137.9,75.7 138.5,75.2 139.0,74.8 139.6,74.4 140.1,73.9 140.7,73.5 141.2,73.1 141.8,72.7 142.4,72.4 142.9,72.0 143.5,71.7 144.1,71.3 144.7,71.0 145.3,70.7 145.9,70.3 146.5,70.0 147.1,69.6 147.7,69.2 148.3,68.9 148.9,68.5 149.4,68.2 149.9,68.0 150.4,67.7 151.0,67.5 151.5,67.2 152.1,67.0 152.6,66.8 153.2,66.6 153.7,66.4 154.2,66.2 154.8,66.1 155.3,65.9 155.8,65.8" fill="none" stroke="#00ff00" stroke-width="2.3" stroke-linejoin="round"/>
<path d="M67.9,169.9 68.5,169.9 69.0,169.8 69.6,169.7 70.2,169.6 70.8,169.5 71.4,169.4 72.0,169.4 72.6,169.3 73.2,169.2 73.8,169.1 74.3,169.0 74.9,168.9 75.5,168.8 76.1,168.7 76.7,168.6 77.3,168.5 77.9,168.4 78.5,168.3 79.1,168.2 79.7,168.1 80.2,168.0 80.8,167.9 81.4,167.8 82.0,167.6 82.6,167.5 83.2,167.4 83.8,167.3 84.4,167.2 85.0,167.0 85.6,166.9 86.2,166.8 86.8,166.6 87.3,166.5 87.9,166.4 88.5,166.2 89.1,166.1 89.7,166.0 90.3,165.8 90.9,165.7 91.5,165.5 92.1,165.4 92.6,165.3 93.2,165.1 93.8,165.0 94.4,164.8 95.0,164.7 95.6,164.6 96.2,164.4 96.7,164.3 97.3,164.1 97.9,164.0 98.5,163.9 99.1,163.7 99.7,163.6 100.3,163.4 100.8,163.3 101.4,163.1 102.0,163.0 102.6,162.9 103.2,162.7 103.8,162.6 104.4,162.4 105.0,162.3 105.6,162.1 106.2,162.0 106.7,161.8 107.3,161.6 107.9,161.5 108.5,161.3 109.1,161.2 109.7,161.0 110.3,160.8 110.9,160.7 111.5,160.5 112.1,160.3 112.7,160.1 113.3,159.9 113.9,159.8 114.5,159.6 115.1,159.4 115.7,159.2 116.3,159.0 116.9,158.8 117.5,158.6 118.1,158.4 118.6,158.2 119.2,157.9 119.8,157.7 120.4,157.5 120.9,157.2 121.5,157.0 122.1,156.8 122.7,156.5 123.2,156.3 123.8,156.1 124.4,155.8 125.0,155.6 125.5,155.4 126.1,155.2 126.7,154.9 127.2,154.7 127.8,154.5 128.4,154.2 129.0,154.0 129.5,153.8 130.1,153.6 130.7,153.3 131.3,153.1 131.8,152.9 132.4,152.7 133.0,152.4 133.6,152.2 134.2,152.0 134.7,151.8 135.3,151.5 135.9,151.3 136.5,151.1 137.0,150.8 137.6,150.6 138.2,150.4 138.8,150.1 139.3,149.8 139.9,149.5 140.4,149.2 141.0,148.9 141.6,148.6 142.1,148.3 142.7,148.0 143.2,147.6 143.8,147.3 144.4,147.0 144.9,146.7 145.5,146.4 146.0,146.1 146.6,145.7 147.1,145.4 147.7,145.1 148.2,144.8 148.8,144.5 149.3,144.2 149.9,143.9 150.4,143.6 151.0,143.3 151.5,143.0 152.1,142.7 152.6,142.5 153.2,142.2 153.7,141.9 154.3,141.6 154.8,141.3 155.4,141.0 155.9,140.7 156.5,140.3 157.0,140.0 157.5,139.6 158.0,139.3 158.5,138.9 159.1,138.5 159.6,138.1 160.1,137.6 160.6,137.2 161.1,136.7 161.6,136.3 162.2,135.8 162.7,135.3 163.2,134.9 163.8,134.4 164.3,134.0 164.9,133.5 165.5,133.0 166.0,132.5 166.6,132.0 167.2,131.6 167.7,131.1 168.3,130.6 168.8,130.1 169.4,129.6 169.9,129.0 170.4,128.5 171.0,127.9 171.5,127.4 172.0,126.7 172.5,126.1 173.1,125.4 173.5,124.6 174.1,123.7 174.6,122.7 175.1,121.6 175.7,120.4 176.2,119.2 176.8,117.9 177.4,116.7 177.9,115.4 178.5,114.1 179.0,112.8 179.6,111.4 180.2,109.9 180.8,108.4 181.4,106.6 182.0,104.6 182.6,102.4 183.3,100.3 183.9,98.5 184.5,96.8 185.1,95.1 185.8,93.6 186.4,92.1 187.0,90.6 187.6,89.2 188.3,87.8 188.9,86.4 189.5,85.1 190.1,83.8 190.8,82.6 191.4,81.3 192.0,80.1 192.6,79.0 193.2,77.8 193.9,76.7 194.5,75.6 195.1,74.5 195.7,73.5 196.3,72.4 197.0,71.4 197.6,70.4 198.2,69.4 198.8,68.4 199.4,67.4 200.0,66.4 200.5,65.4 201.1,64.5 201.7,63.5 202.3,62.6 202.9,61.7 203.5,60.8 204.1,59.9 204.7,59.1 205.3,58.3 205.9,57.4 206.5,56.7 207.1,55.9 207.7,55.1 208.3,54.4 208.9,53.7 209.5,52.9 210.1,52.2 210.7,51.5 211.2,50.8 211.8,50.2 212.4,49.5 213.0,48.8 213.6,48.2 214.2,47.6 214.8,46.9 215.4,46.3 216.0,45.7 216.6,45.2 217.2,44.6 217.8,44.1 218.4,43.5 219.0,43.0 219.6,42.4 220.2,41.9 220.8,41.4 221.4,40.9 222.0,40.4 222.6,39.9 223.2,39.4 223.8,39.0 224.4,38.5 225.0,38.1 225.6,37.7 226.2,37.4 226.8,37.1 227.4,36.8 228.0,36.5 228.6,36.2 229.2,36.0 229.8,35.7 230.4,35.5 231.0,35.3 231.6,35.1 232.2,34.9 232.8,34.7 233.4,34.5 234.0,34.3 234.5,34.1 235.1,33.8 235.7,33.6 236.3,33.4 236.8,33.1 237.4,32.9 238.0,32.7 238.6,32.4 239.2,32.2 239.8,31.9 240.4,31.7 240.9,31.4 241.5,31.2 242.1,30.9" fill="none" stroke="#00ff00" stroke-width="2.3" stroke-linejoin="round"/>
<path d="M155.6,60.0 156.2,59.7 156.7,59.5 157.3,59.2 157.9,58.9 158.5,58.7 159.1,58.4 159.7,58.1 160.2,57.9 160.8,57.6 161.4,57.3 162.0,57.0 162.6,56.8 163.2,56.5 163.7,56.2 164.3,56.0 164.9,55.7 165.5,55.4 166.1,55.2 166.7,54.9 167.2,54.6 167.8,54.4 168.4,54.1 169.0,53.9 169.6,53.6 170.2,53.3 170.7,53.1 171.3,52.8 171.9,52.6 172.5,52.3 173.1,52.1 173.7,51.8 174.2,51.6 174.8,51.3 175.4,51.1 176.0,50.9 176.6,50.6 177.1,50.4 177.7,50.1 178.3,49.9 178.9,49.7 179.5,49.4 180.1,49.2 180.6,48.9 181.2,48.7 181.8,48.5 182.4,48.3 183.0,48.0 183.6,47.8 184.1,47.6 184.7,47.3 185.3,47.1 185.9,46.9 186.5,46.7 187.1,46.4 187.6,46.2 188.2,46.0 188.8,45.8 189.4,45.6 190.0,45.4 190.6,45.2 191.1,45.0 191.7,44.8 192.3,44.6 192.9,44.4 193.5,44.2 194.1,44.0 194.6,43.8 195.2,43.6 195.8,43.4 196.4,43.2 197.0,43.1 197.5,42.9 198.1,42.7 198.7,42.5 199.3,42.3 199.9,42.1 200.5,42.0 201.0,41.8 201.6,41.6 202.2,41.4 202.8,41.2 203.4,41.1 204.0,40.9 204.5,40.7 205.1,40.6 205.7,40.4 206.3,40.2 206.9,40.0 207.5,39.9 208.0,39.7 208.6,39.5 209.2,39.4 209.8,39.2 210.4,39.1 211.0,38.9 211.5,38.7 212.1,38.6 212.7,38.4 213.3,38.3 213.9,38.1 214.5,37.9 215.0,37.8 215.6,37.6 216.2,37.5 216.8,37.3 217.4,37.2 217.9,37.0 218.5,36.9 219.1,36.7 219.7,36.6 220.3,36.4 220.9,36.3 221.4,36.1 222.0,36.0 222.6,35.8 223.2,35.7 223.8,35.6 224.4,35.4 224.9,35.3 225.5,35.1 226.1,35.0 226.7,34.9 227.3,34.7 227.9,34.6 228.4,34.5 229.0,34.3 229.6,34.2 230.2,34.1 230.8,34.0 231.4,33.8 231.9,33.7 232.5,33.6 233.1,33.5 233.7,33.4 234.3,33.2 234.9,33.1 235.4,33.0 236.0,32.9 236.6,32.8 237.2,32.7 237.8,32.5 238.3,32.4 238.9,32.3 239.5,32.2 240.1,32.1 240.7,32.0 241.3,31.9 241.8,31.8 242.4,31.7" fill="none" stroke="#808000" stroke-width="2.3" stroke-linejoin="round"/>
<path d="M67.6,168.0 68.2,167.8 68.7,167.7 69.3,167.5 69.9,167.3 70.5,167.1 71.1,166.9 71.7,166.8 72.2,166.5 72.8,166.3 73.4,166.1 74.0,165.9 74.6,165.7 75.1,165.4 75.7,165.2 76.3,164.9 76.9,164.7 77.5,164.4 78.1,164.1 78.6,163.8 79.2,163.6 79.8,163.3 80.4,163.0 81.0,162.7 81.6,162.4 82.1,162.1 82.7,161.8 83.3,161.5 83.9,161.2 84.5,160.8 85.1,160.5 85.6,160.2 86.2,159.8 86.8,159.4 87.4,159.1 88.0,158.7 88.6,158.3 89.1,157.9 89.7,157.5 90.3,157.0 90.9,156.6 91.5,156.1 92.1,155.7 92.6,155.2 93.2,154.7 93.8,154.2 94.4,153.7 95.0,153.2 95.5,152.6 96.1,152.1 96.7,151.5 97.3,150.8 97.9,150.2 98.5,149.4 99.0,148.7 99.6,147.9 100.2,147.1 100.8,146.2 101.4,145.4 102.0,144.5 102.5,143.6 103.1,142.7 103.7,141.8 104.3,140.9 104.9,140.0 105.5,139.1 106.0,138.2 106.6,137.2 107.2,136.2 107.8,135.2 108.4,134.2 109.0,133.2 109.5,132.1 110.1,131.1 110.7,130.0 111.3,128.8 111.9,127.7 112.5,126.5 113.0,125.2 113.6,124.0 114.2,122.7 114.8,121.4 115.4,120.1 115.9,118.7 116.5,117.4 117.1,115.9 117.7,114.5 118.3,113.0 118.9,111.6 119.4,110.0 120.0,108.5 120.6,107.0 121.2,105.4 121.8,103.8 122.4,102.1 122.9,100.2 123.5,98.4 124.1,96.7 124.7,95.2 125.3,93.8 125.9,92.5 126.4,91.2 127.0,89.9 127.6,88.7 128.2,87.4 128.8,86.1 129.4,84.8 129.9,83.6 130.5,82.5 131.1,81.4 131.7,80.3 132.3,79.3 132.9,78.4 133.4,77.4 134.0,76.6 134.6,75.8 135.2,75.1 135.8,74.5 136.3,74.0 136.9,73.5 137.5,73.0 138.1,72.5 138.7,72.0 139.3,71.6 139.8,71.2 140.4,70.8 141.0,70.4 141.6,70.0 142.2,69.6 142.8,69.2 143.3,68.9 143.9,68.5 144.5,68.2 145.1,67.8 145.7,67.4 146.3,67.0 146.8,66.7 147.4,66.3 148.0,65.9 148.6,65.6 149.2,65.3 149.8,65.0 150.3,64.7 150.9,64.4 151.5,64.2 152.1,63.9 152.7,63.7 153.3,63.5 153.8,63.3 154.4,63.1 155.0,62.9" fill="none" stroke="#808000" stroke-width="2.3" stroke-linejoin="round"/>
<path d="M67.6,168.0 68.2,167.9 68.7,167.8 69.3,167.7 69.9,167.6 70.5,167.5 71.1,167.4 71.7,167.3 72.2,167.2 72.8,167.1 73.4,167.0 74.0,166.9 74.6,166.8 75.1,166.7 75.7,166.6 76.3,166.5 76.9,166.4 77.5,166.3 78.1,166.2 78.6,166.0 79.2,165.9 79.8,165.8 80.4,165.7 81.0,165.6 81.6,165.5 82.1,165.3 82.7,165.2 83.3,165.1 83.9,164.9 84.5,164.8 85.1,164.7 85.6,164.5 86.2,164.4 86.8,164.3 87.4,164.1 88.0,164.0 88.6,163.8 89.1,163.7 89.7,163.5 90.3,163.4 90.9,163.2 91.5,163.1 92.1,162.9 92.6,162.8 93.2,162.6 93.8,162.5 94.4,162.3 95.0,162.2 95.5,162.0 96.1,161.9 96.7,161.7 97.3,161.6 97.9,161.4 98.5,161.3 99.0,161.1 99.6,161.0 100.2,160.8 100.8,160.7 101.4,160.5 102.0,160.4 102.5,160.2 103.1,160.1 103.7,159.9 104.3,159.8 104.9,159.6 105.5,159.4 106.0,159.3 106.6,159.1 107.2,158.9 107.8,158.8 108.4,158.6 109.0,158.4 109.5,158.3 110.1,158.1 110.7,157.9 111.3,157.7 111.9,157.5 112.5,157.4 113.0,157.2 113.6,157.0 114.2,156.8 114.8,156.6 115.4,156.4 115.9,156.2 116.5,156.0 117.1,155.8 117.7,155.5 118.3,155.3 118.9,155.1 119.4,154.9 120.0,154.7 120.6,154.5 121.2,154.3 121.8,154.1 122.4,153.9 122.9,153.7 123.5,153.4 124.1,153.2 124.7,153.0 125.3,152.8 125.9,152.6 126.4,152.4 127.0,152.2 127.6,152.0 128.2,151.8 128.8,151.6 129.4,151.4 129.9,151.2 130.5,151.0 131.1,150.8 131.7,150.6 132.3,150.4 132.9,150.2 133.4,149.9 134.0,149.7 134.6,149.5 135.2,149.3 135.8,149.1 136.3,148.9 136.9,148.7 137.5,148.5 138.1,148.3 138.7,148.0 139.3,147.8 139.8,147.6 140.4,147.4 141.0,147.2 141.6,146.9 142.2,146.7 142.8,146.5 143.3,146.2 143.9,146.0 144.5,145.7 145.1,145.5 145.7,145.3 146.3,145.0 146.8,144.8 147.4,144.5 148.0,144.3 148.6,144.1 149.2,143.8 149.8,143.6 150.3,143.4 150.9,143.1 151.5,142.9 152.1,142.7 152.7,142.5 153.3,142.3 153.8,142.1 154.4,141.9 155.0,141.7 155.6,141.5 156.2,141.3 156.7,141.0 157.3,140.7 157.9,140.4 158.5,140.1 159.1,139.8 159.7,139.5 160.2,139.1 160.8,138.8 161.4,138.4 162.0,138.0 162.6,137.6 163.2,137.2 163.7,136.8 164.3,136.3 164.9,135.9 165.5,135.4 166.1,135.0 166.7,134.5 167.2,134.0 167.8,133.5 168.4,133.1 169.0,132.6 169.6,132.1 170.2,131.6 170.7,131.1 171.3,130.5 171.9,130.0 172.5,129.4 173.1,128.8 173.7,128.1 174.2,127.4 174.8,126.7 175.4,125.8 176.0,124.8 176.6,123.8 177.1,122.6 177.7,121.4 178.3,120.2 178.9,118.9 179.5,117.6 180.1,116.4 180.6,115.1 181.2,113.7 181.8,112.3 182.4,110.8 183.0,109.1 183.6,107.3 184.1,105.1 184.7,103.0 185.3,100.9 185.9,99.1 186.5,97.5 187.1,95.8 187.6,94.3 188.2,92.8 188.8,91.3 189.4,89.9 190.0,88.5 190.6,87.2 191.1,85.8 191.7,84.6 192.3,83.3 192.9,82.1 193.5,80.9 194.1,79.7 194.6,78.5 195.2,77.4 195.8,76.3 196.4,75.2 197.0,74.1 197.5,73.1 198.1,72.0 198.7,71.0 199.3,70.0 199.9,69.0 200.5,68.0 201.0,67.1 201.6,66.1 202.2,65.1 202.8,64.2 203.4,63.3 204.0,62.4 204.5,61.5 205.1,60.6 205.7,59.8 206.3,59.0 206.9,58.2 207.5,57.4 208.0,56.6 208.6,55.9 209.2,55.1 209.8,54.4 210.4,53.7 211.0,53.0 211.5,52.3 212.1,51.6 212.7,50.9 213.3,50.2 213.9,49.6 214.5,48.9 215.0,48.3 215.6,47.7 216.2,47.1 216.8,46.5 217.4,45.9 217.9,45.4 218.5,44.8 219.1,44.3 219.7,43.7 220.3,43.2 220.9,42.7 221.4,42.2 222.0,41.6 222.6,41.1 223.2,40.7 223.8,40.2 224.4,39.8 224.9,39.3 225.5,39.0 226.1,38.6 226.7,38.2 227.3,37.9 227.9,37.6 228.4,37.4 229.0,37.1 229.6,36.8 230.2,36.6 230.8,36.4 231.4,36.2 231.9,36.0 232.5,35.7 233.1,35.5 233.7,35.3 234.3,35.1 234.9,34.9 235.4,34.7 236.0,34.4 236.6,34.2 237.2,33.9 237.8,33.7 238.3,33.4 238.9,33.2 239.5,32.9 240.1,32.7 240.7,32.4 241.3,32.2 241.8,31.9 242.4,31.7" fill="none" stroke="#808000" stroke-width="2.3" stroke-linejoin="round"/></g>
<g clip-path="url(#cb)"><path d="M444.1,69.4 444.7,69.2 445.4,68.9 446.0,68.7 446.7,68.3 447.3,68.0 447.9,67.6 448.5,67.3 449.1,66.9 449.7,66.5 450.3,66.0 450.9,65.6 451.5,65.2 452.1,64.8 452.7,64.4 453.2,64.0 453.8,63.6 454.3,63.3 454.9,62.9 455.5,62.6 456.0,62.3 456.6,61.9 457.2,61.6 457.8,61.3 458.3,61.0 458.9,60.6 459.5,60.3 460.1,60.0 460.6,59.7 461.2,59.4 461.8,59.1 462.4,58.8 462.9,58.5 463.5,58.2 464.1,58.0 464.7,57.7 465.3,57.4 465.8,57.1 466.4,56.8 467.0,56.6 467.6,56.3 468.1,56.0 468.7,55.7 469.3,55.5 469.8,55.2 470.4,55.0 471.0,54.8 471.5,54.5 472.1,54.3 472.7,54.1 473.2,53.9 473.8,53.7 474.4,53.5 474.9,53.3 475.5,53.1 476.1,53.0 476.6,52.8 477.2,52.6 477.8,52.5 478.4,52.3 478.9,52.1 479.5,52.0 480.1,51.8 480.7,51.7 481.2,51.5 481.8,51.3 482.4,51.2 483.0,51.0 483.6,50.9 484.1,50.7 484.7,50.6 485.3,50.4 485.9,50.3 486.5,50.1 487.0,50.0 487.6,49.8 488.2,49.7 488.8,49.6 489.4,49.4 489.9,49.3 490.5,49.2 491.1,49.0 491.7,48.9 492.3,48.8 492.8,48.6 493.4,48.5 494.0,48.4 494.6,48.3 495.2,48.1 495.7,48.0 496.3,47.9 496.9,47.7 497.5,47.6 498.1,47.5 498.7,47.4 499.2,47.2 499.8,47.1 500.4,47.0 501.0,46.9 501.6,46.7 502.2,46.6 502.7,46.5 503.3,46.3 503.9,46.2 504.5,46.1 505.1,45.9 505.7,45.8 506.3,45.7 506.8,45.5 507.4,45.4 508.0,45.3 508.6,45.1 509.2,45.0 509.8,44.8 510.4,44.7 511.0,44.5 511.5,44.4 512.1,44.2 512.7,44.1 513.3,43.9 513.9,43.8 514.5,43.6 515.1,43.5 515.6,43.3 516.2,43.2 516.8,43.0 517.4,42.9 518.0,42.7 518.6,42.6 519.2,42.4 519.7,42.3 520.3,42.1 520.9,41.9 521.5,41.8 522.1,41.6 522.7,41.5 523.3,41.3 523.8,41.1 524.4,41.0 525.0,40.8 525.6,40.6 526.2,40.5 526.8,40.3 527.4,40.1 527.9,40.0 528.5,39.8 529.1,39.6 529.7,39.5 530.3,39.3 530.9,39.1" fill="none" stroke="#000000" stroke-width="2.3" stroke-linejoin="round"/>
<path d="M355.7,162.8 356.3,162.7 356.9,162.6 357.4,162.4 358.0,162.3 358.6,162.1 359.1,161.9 359.7,161.7 360.3,161.6 360.8,161.3 361.4,161.1 362.0,160.9 362.5,160.7 363.1,160.4 363.7,160.2 364.3,159.9 364.8,159.6 365.4,159.4 366.0,159.1 366.6,158.8 367.1,158.5 367.7,158.2 368.3,157.9 368.9,157.6 369.4,157.3 370.0,156.9 370.6,156.6 371.1,156.3 371.7,155.9 372.3,155.5 372.8,155.1 373.4,154.7 374.0,154.2 374.5,153.8 375.1,153.3 375.7,152.8 376.2,152.3 376.8,151.8 377.4,151.3 377.9,150.7 378.5,150.2 379.1,149.6 379.7,149.1 380.2,148.5 380.8,147.9 381.4,147.3 382.0,146.7 382.5,146.1 383.1,145.5 383.7,144.9 384.3,144.4 384.8,143.8 385.4,143.2 386.0,142.6 386.6,142.0 387.1,141.3 387.7,140.7 388.3,140.1 388.9,139.5 389.4,138.8 390.0,138.1 390.6,137.4 391.1,136.7 391.7,135.9 392.3,135.2 392.8,134.3 393.4,133.5 393.9,132.6 394.5,131.6 395.1,130.6 395.6,129.5 396.2,128.4 396.8,127.3 397.4,126.1 397.9,124.9 398.5,123.6 399.1,122.2 399.6,120.7 400.2,119.1 400.8,117.4 401.3,115.7 401.9,113.9 402.5,112.2 403.1,110.5 403.7,108.9 404.2,107.4 404.8,105.9 405.4,104.4 406.0,103.0 406.6,101.6 407.1,100.2 407.7,98.7 408.3,97.3 408.9,95.9 409.5,94.7 410.1,93.5 410.6,92.4 411.2,91.4 411.8,90.5 412.4,89.6 413.0,88.7 413.6,87.8 414.1,86.9 414.7,85.9 415.3,84.9 415.8,83.8 416.4,82.8 417.0,81.9 417.6,81.0 418.3,80.2 418.9,79.4 419.6,78.9 420.2,78.4 420.8,78.0 421.5,77.6 422.1,77.2 422.7,76.9 423.3,76.6 423.9,76.3 424.5,76.0 425.1,75.7 425.7,75.5 426.3,75.2 426.9,75.0 427.5,74.8 428.1,74.6 428.7,74.3 429.3,74.1 429.9,73.9 430.5,73.6 431.1,73.4 431.7,73.2 432.3,73.0 432.8,72.7 433.4,72.5 434.0,72.3 434.6,72.1 435.2,71.9 435.8,71.7 436.4,71.5 437.0,71.3 437.6,71.1 438.2,70.9 438.8,70.8 439.4,70.6 439.9,70.4 440.5,70.3 441.1,70.1 441.7,69.9 442.3,69.8 442.9,69.7" fill="none" stroke="#000000" stroke-width="2.3" stroke-linejoin="round"/>
<path d="M355.6,162.8 356.2,162.6 356.8,162.4 357.4,162.2 357.9,161.9 358.5,161.7 359.1,161.5 359.7,161.3 360.3,161.1 360.9,160.9 361.4,160.7 362.0,160.5 362.6,160.3 363.2,160.1 363.8,159.9 364.4,159.7 364.9,159.5 365.5,159.3 366.1,159.1 366.7,158.9 367.3,158.8 367.9,158.6 368.4,158.4 369.0,158.2 369.6,158.1 370.2,157.9 370.8,157.7 371.4,157.6 371.9,157.4 372.5,157.3 373.1,157.1 373.7,157.0 374.3,156.8 374.9,156.7 375.5,156.5 376.0,156.4 376.6,156.3 377.2,156.1 377.8,156.0 378.4,155.9 378.9,155.8 379.5,155.6 380.1,155.5 380.7,155.4 381.3,155.2 381.9,155.1 382.4,155.0 383.0,154.9 383.6,154.7 384.2,154.6 384.8,154.5 385.3,154.3 385.9,154.2 386.5,154.1 387.1,153.9 387.6,153.8 388.2,153.6 388.8,153.5 389.4,153.3 390.0,153.2 390.5,153.0 391.1,152.9 391.7,152.7 392.3,152.5 392.9,152.4 393.4,152.2 394.0,152.1 394.6,151.9 395.2,151.7 395.8,151.6 396.3,151.4 396.9,151.2 397.5,151.1 398.1,150.9 398.7,150.7 399.2,150.6 399.8,150.4 400.4,150.2 401.0,150.1 401.6,149.9 402.1,149.7 402.7,149.5 403.3,149.4 403.9,149.2 404.5,149.0 405.0,148.8 405.6,148.7 406.2,148.5 406.8,148.3 407.4,148.1 407.9,147.9 408.5,147.7 409.1,147.5 409.7,147.3 410.3,147.1 410.8,146.9 411.4,146.7 412.0,146.5 412.6,146.3 413.2,146.1 413.7,145.9 414.3,145.7 414.9,145.5 415.5,145.3 416.1,145.1 416.6,144.8 417.2,144.6 417.8,144.4 418.4,144.2 418.9,143.9 419.5,143.7 420.1,143.5 420.7,143.2 421.2,143.0 421.8,142.7 422.4,142.4 423.0,142.1 423.5,141.8 424.1,141.5 424.7,141.2 425.3,140.9 425.9,140.6 426.4,140.3 427.0,140.0 427.6,139.7 428.2,139.3 428.8,139.0 429.4,138.7 429.9,138.4 430.5,138.1 431.1,137.8 431.7,137.5 432.3,137.2 432.9,137.0 433.4,136.7 434.0,136.4 434.6,136.1 435.2,135.8 435.8,135.5 436.3,135.2 436.9,135.0 437.5,134.7 438.1,134.4 438.7,134.1 439.2,133.8 439.8,133.5 440.4,133.2 441.0,133.0 441.6,132.7 442.1,132.4 442.7,132.1 443.3,131.8 443.9,131.5 444.5,131.2 445.0,130.9 445.6,130.6 446.2,130.3 446.8,130.0 447.3,129.6 447.9,129.3 448.5,128.9 449.1,128.6 449.6,128.2 450.2,127.8 450.8,127.4 451.4,126.9 451.9,126.5 452.5,126.1 453.1,125.6 453.6,125.1 454.2,124.6 454.8,124.0 455.4,123.5 455.9,122.9 456.5,122.3 457.1,121.7 457.7,121.0 458.2,120.3 458.8,119.6 459.4,118.9 460.0,118.2 460.5,117.4 461.1,116.5 461.7,115.7 462.3,114.8 462.8,113.9 463.4,113.0 464.0,112.0 464.6,110.9 465.1,109.8 465.7,108.6 466.3,107.4 466.9,106.2 467.4,105.0 468.0,103.7 468.6,102.4 469.2,101.1 469.8,99.9 470.3,98.6 470.9,97.3 471.5,96.1 472.1,94.8 472.7,93.6 473.3,92.4 473.8,91.2 474.4,90.0 475.0,88.8 475.6,87.6 476.2,86.4 476.7,85.2 477.3,84.0 477.9,82.8 478.5,81.7 479.1,80.5 479.7,79.4 480.2,78.3 480.8,77.2 481.4,76.2 482.0,75.1 482.6,74.1 483.2,73.1 483.7,72.0 484.3,71.1 484.9,70.1 485.5,69.1 486.1,68.2 486.7,67.3 487.3,66.4 487.9,65.5 488.5,64.7 489.1,63.8 489.7,63.0 490.4,62.2 491.0,61.4 491.6,60.7 492.2,59.9 492.8,59.2 493.4,58.5 494.0,57.8 494.6,57.1 495.2,56.4 495.8,55.8 496.5,55.1 497.1,54.5 497.7,53.9 498.3,53.4 498.9,52.8 499.5,52.3 500.1,51.9 500.7,51.4 501.3,51.0 501.9,50.6 502.5,50.2 503.1,49.9 503.7,49.5 504.2,49.2 504.8,48.9 505.4,48.6 506.0,48.3 506.6,48.0 507.2,47.7 507.8,47.4 508.4,47.1 509.0,46.8 509.6,46.5 510.2,46.3 510.8,46.0 511.4,45.7 512.0,45.5 512.6,45.2 513.2,45.0 513.8,44.7 514.4,44.5 515.0,44.2 515.6,44.0 516.2,43.7 516.8,43.5 517.4,43.3 518.0,43.1 518.6,42.9 519.2,42.6 519.7,42.4 520.3,42.2 520.9,42.0 521.5,41.8 522.1,41.6 522.7,41.4 523.3,41.3 523.9,41.1 524.5,40.9 525.1,40.7 525.6,40.5 526.2,40.4 526.8,40.2 527.4,40.0 528.0,39.9 528.6,39.7 529.2,39.6 529.7,39.4 530.3,39.3 530.9,39.1" fill="none" stroke="#000000" stroke-width="2.3" stroke-linejoin="round"/>
<path d="M443.2,66.7 443.8,66.5 444.3,66.3 444.8,66.1 445.3,65.8 445.9,65.5 446.4,65.2 447.0,64.9 447.6,64.5 448.1,64.1 448.7,63.7 449.3,63.3 449.8,62.9 450.4,62.5 451.0,62.0 451.6,61.6 452.2,61.2 452.8,60.8 453.4,60.4 454.0,60.1 454.6,59.7 455.2,59.4 455.7,59.1 456.3,58.7 456.9,58.4 457.5,58.1 458.1,57.7 458.7,57.4 459.3,57.1 459.8,56.8 460.4,56.5 461.0,56.2 461.6,55.9 462.2,55.6 462.8,55.3 463.3,55.0 463.9,54.7 464.5,54.4 465.1,54.1 465.7,53.8 466.3,53.6 466.9,53.3 467.4,53.0 468.0,52.7 468.6,52.5 469.2,52.2 469.8,51.9 470.4,51.7 471.0,51.5 471.6,51.2 472.2,51.0 472.8,50.8 473.4,50.6 474.0,50.4 474.6,50.2 475.1,50.0 475.7,49.8 476.3,49.6 476.9,49.5 477.5,49.3 478.1,49.1 478.7,49.0 479.2,48.8 479.8,48.6 480.4,48.5 481.0,48.3 481.6,48.1 482.2,48.0 482.7,47.8 483.3,47.7 483.9,47.5 484.5,47.4 485.1,47.2 485.6,47.0 486.2,46.9 486.8,46.7 487.4,46.6 488.0,46.5 488.6,46.3 489.2,46.2 489.7,46.0 490.3,45.9 490.9,45.7 491.5,45.6 492.1,45.5 492.7,45.3 493.2,45.2 493.8,45.1 494.4,44.9 495.0,44.8 495.6,44.7 496.2,44.5 496.7,44.4 497.3,44.3 497.9,44.1 498.5,44.0 499.1,43.9 499.6,43.7 500.2,43.6 500.8,43.5 501.4,43.3 502.0,43.2 502.6,43.1 503.1,42.9 503.7,42.8 504.3,42.7 504.9,42.5 505.5,42.4 506.0,42.3 506.6,42.1 507.2,42.0 507.8,41.8 508.3,41.7 508.9,41.5 509.5,41.4 510.1,41.2 510.7,41.1 511.2,40.9 511.8,40.8 512.4,40.6 513.0,40.5 513.6,40.3 514.1,40.2 514.7,40.0 515.3,39.8 515.9,39.7 516.5,39.5 517.0,39.4 517.6,39.2 518.2,39.0 518.8,38.9 519.4,38.7 519.9,38.6 520.5,38.4 521.1,38.2 521.7,38.1 522.3,37.9 522.9,37.7 523.4,37.6 524.0,37.4 524.6,37.2 525.2,37.1 525.8,36.9 526.3,36.7 526.9,36.5 527.5,36.4 528.1,36.2 528.7,36.0 529.2,35.9 529.8,35.7" fill="none" stroke="#ff0000" stroke-width="2.3" stroke-linejoin="round"/>
<path d="M355.8,164.3 356.4,164.2 357.0,164.1 357.6,163.9 358.2,163.8 358.7,163.6 359.3,163.4 359.9,163.3 360.5,163.1 361.1,162.9 361.6,162.7 362.2,162.4 362.8,162.2 363.4,162.0 364.0,161.7 364.5,161.5 365.1,161.2 365.7,160.9 366.3,160.6 366.9,160.4 367.5,160.1 368.0,159.8 368.6,159.5 369.2,159.2 369.8,158.9 370.4,158.5 370.9,158.2 371.5,157.9 372.1,157.6 372.7,157.2 373.3,156.9 373.8,156.5 374.4,156.1 375.0,155.7 375.6,155.3 376.2,154.8 376.7,154.3 377.3,153.9 377.9,153.4 378.5,152.9 379.1,152.4 379.7,151.9 380.2,151.3 380.8,150.8 381.4,150.2 382.0,149.7 382.6,149.1 383.1,148.5 383.7,147.9 384.3,147.4 384.9,146.8 385.5,146.2 386.0,145.6 386.6,145.0 387.2,144.4 387.8,143.8 388.4,143.2 389.0,142.5 389.5,141.9 390.1,141.3 390.7,140.6 391.3,139.9 391.9,139.2 392.4,138.5 393.0,137.7 393.6,136.9 394.2,136.1 394.8,135.3 395.3,134.4 395.9,133.5 396.5,132.5 397.1,131.5 397.7,130.4 398.3,129.3 398.8,128.2 399.4,127.0 400.0,125.8 400.6,124.6 401.2,123.4 401.7,122.0 402.3,120.6 402.9,119.2 403.5,117.7 404.1,116.2 404.6,114.8 405.2,113.4 405.8,112.0 406.4,110.8 407.0,109.6 407.6,108.6 408.1,107.6 408.7,106.6 409.3,105.7 409.9,104.8 410.5,103.8 411.0,102.9 411.6,102.0 412.2,101.0 412.8,100.1 413.4,99.2 413.9,98.3 414.5,97.4 415.1,96.5 415.7,95.6 416.3,94.7 416.8,93.8 417.4,92.9 418.0,92.1 418.6,91.2 419.2,90.4 419.8,89.5 420.3,88.7 420.9,87.9 421.5,87.1 422.1,86.3 422.7,85.5 423.2,84.8 423.8,84.0 424.4,83.2 425.0,82.5 425.6,81.8 426.1,81.1 426.7,80.4 427.3,79.7 427.9,79.0 428.5,78.3 429.1,77.6 429.6,76.9 430.2,76.3 430.8,75.8 431.4,75.3 432.0,74.9 432.5,74.6 433.1,74.2 433.7,73.9 434.3,73.6 434.9,73.3 435.4,73.0 436.0,72.8 436.6,72.6 437.2,72.4 437.8,72.2 438.4,72.1 438.9,71.9 439.5,71.8 440.1,71.6 440.7,71.5 441.3,71.4 441.8,71.3 442.4,71.2 443.0,71.1" fill="none" stroke="#ff0000" stroke-width="2.3" stroke-linejoin="round"/>
<path d="M356.2,164.3 356.8,164.1 357.3,163.9 357.9,163.7 358.5,163.4 359.1,163.2 359.7,163.0 360.2,162.8 360.8,162.6 361.4,162.4 362.0,162.2 362.6,162.0 363.1,161.8 363.7,161.6 364.3,161.4 364.9,161.2 365.4,161.0 366.0,160.9 366.6,160.7 367.2,160.5 367.8,160.3 368.3,160.1 368.9,160.0 369.5,159.8 370.1,159.6 370.6,159.5 371.2,159.3 371.8,159.2 372.4,159.0 372.9,158.9 373.5,158.7 374.1,158.6 374.7,158.4 375.2,158.3 375.8,158.2 376.4,158.0 377.0,157.9 377.6,157.8 378.1,157.6 378.7,157.5 379.3,157.4 379.9,157.2 380.5,157.1 381.0,157.0 381.6,156.9 382.2,156.7 382.8,156.6 383.4,156.5 384.0,156.4 384.5,156.2 385.1,156.1 385.7,156.0 386.3,155.8 386.9,155.7 387.5,155.5 388.1,155.4 388.6,155.3 389.2,155.1 389.8,154.9 390.4,154.8 391.0,154.6 391.6,154.5 392.1,154.3 392.7,154.2 393.3,154.0 393.9,153.8 394.5,153.7 395.1,153.5 395.6,153.4 396.2,153.2 396.8,153.0 397.4,152.9 398.0,152.7 398.6,152.5 399.1,152.4 399.7,152.2 400.3,152.0 400.9,151.9 401.5,151.7 402.1,151.5 402.6,151.4 403.2,151.2 403.8,151.0 404.4,150.8 405.0,150.7 405.6,150.5 406.1,150.3 406.7,150.1 407.3,149.9 407.9,149.7 408.5,149.5 409.1,149.4 409.6,149.2 410.2,149.0 410.8,148.8 411.4,148.6 412.0,148.4 412.6,148.2 413.2,148.0 413.7,147.8 414.3,147.5 414.9,147.3 415.5,147.1 416.1,146.9 416.7,146.7 417.3,146.5 417.8,146.2 418.4,146.0 419.0,145.8 419.6,145.5 420.2,145.3 420.8,145.1 421.4,144.8 422.0,144.5 422.6,144.3 423.2,144.0 423.8,143.7 424.4,143.4 424.9,143.1 425.5,142.8 426.1,142.5 426.7,142.2 427.3,141.8 427.9,141.5 428.4,141.2 429.0,140.9 429.6,140.6 430.2,140.3 430.8,140.0 431.3,139.7 431.9,139.4 432.5,139.1 433.1,138.8 433.6,138.5 434.2,138.3 434.8,138.0 435.4,137.7 436.0,137.4 436.5,137.1 437.1,136.9 437.7,136.6 438.3,136.3 438.9,136.0 439.5,135.7 440.0,135.4 440.6,135.1 441.2,134.9 441.8,134.6 442.4,134.3 443.0,134.0 443.5,133.7 444.1,133.4 444.7,133.1 445.3,132.8 445.9,132.5 446.5,132.2 447.0,131.8 447.6,131.5 448.2,131.1 448.8,130.8 449.4,130.4 450.0,130.0 450.6,129.6 451.2,129.2 451.8,128.8 452.4,128.3 453.0,127.8 453.6,127.4 454.2,126.9 454.8,126.3 455.3,125.8 455.9,125.2 456.5,124.6 457.1,124.0 457.7,123.4 458.3,122.8 458.9,122.1 459.5,121.4 460.1,120.7 460.7,119.9 461.2,119.1 461.8,118.3 462.4,117.4 463.0,116.6 463.6,115.7 464.2,114.7 464.7,113.7 465.3,112.7 465.9,111.6 466.5,110.4 467.1,109.2 467.6,108.0 468.2,106.8 468.8,105.6 469.4,104.3 469.9,103.0 470.5,101.7 471.1,100.4 471.7,99.2 472.2,97.9 472.8,96.7 473.4,95.4 473.9,94.2 474.5,93.0 475.1,91.8 475.7,90.6 476.2,89.4 476.8,88.2 477.4,87.0 478.0,85.8 478.5,84.6 479.1,83.4 479.7,82.3 480.2,81.1 480.8,80.0 481.4,78.9 482.0,77.8 482.5,76.8 483.1,75.7 483.7,74.7 484.2,73.7 484.8,72.7 485.4,71.7 486.0,70.7 486.5,69.8 487.1,68.8 487.7,67.9 488.2,67.0 488.8,66.1 489.3,65.2 489.9,64.4 490.5,63.5 491.0,62.7 491.6,61.9 492.1,61.1 492.7,60.3 493.3,59.6 493.8,58.8 494.4,58.1 495.0,57.4 495.5,56.7 496.1,56.0 496.6,55.3 497.2,54.7 497.8,54.0 498.3,53.4 498.9,52.8 499.5,52.3 500.0,51.8 500.6,51.3 501.2,50.9 501.7,50.4 502.3,50.0 502.9,49.6 503.4,49.2 504.0,48.8 504.6,48.4 505.1,48.1 505.7,47.7 506.3,47.4 506.9,47.0 507.4,46.7 508.0,46.3 508.6,46.0 509.1,45.7 509.7,45.3 510.3,45.0 510.9,44.7 511.4,44.3 512.0,44.0 512.6,43.7 513.1,43.4 513.7,43.1 514.3,42.8 514.9,42.5 515.4,42.2 516.0,41.9 516.6,41.6 517.2,41.3 517.7,41.0 518.3,40.7 518.9,40.5 519.5,40.2 520.0,39.9 520.6,39.7 521.2,39.4 521.8,39.2 522.3,38.9 522.9,38.6 523.5,38.4 524.1,38.1 524.7,37.9 525.2,37.7 525.8,37.4 526.4,37.2 527.0,37.0 527.5,36.7 528.1,36.5 528.7,36.3 529.3,36.1 529.9,35.9" fill="none" stroke="#ff0000" stroke-width="2.3" stroke-linejoin="round"/>
<path d="M443.6,67.9 444.2,67.7 444.7,67.5 445.3,67.2 445.9,66.9 446.5,66.6 447.1,66.2 447.6,65.9 448.2,65.5 448.8,65.1 449.4,64.7 450.0,64.3 450.6,63.9 451.1,63.5 451.7,63.1 452.3,62.7 452.9,62.3 453.5,61.9 454.0,61.5 454.6,61.2 455.2,60.8 455.8,60.5 456.4,60.2 456.9,59.8 457.5,59.5 458.1,59.2 458.7,58.9 459.3,58.5 459.9,58.2 460.4,57.9 461.0,57.6 461.6,57.3 462.2,57.0 462.8,56.7 463.3,56.4 463.9,56.2 464.5,55.9 465.1,55.6 465.7,55.3 466.2,55.0 466.8,54.7 467.4,54.5 468.0,54.2 468.6,53.9 469.2,53.7 469.7,53.4 470.3,53.2 470.9,52.9 471.5,52.7 472.1,52.5 472.6,52.3 473.2,52.1 473.8,51.9 474.4,51.7 475.0,51.5 475.5,51.3 476.1,51.1 476.7,50.9 477.3,50.8 477.9,50.6 478.4,50.4 479.0,50.3 479.6,50.1 480.2,49.9 480.8,49.8 481.4,49.6 481.9,49.5 482.5,49.3 483.1,49.2 483.7,49.0 484.3,48.9 484.8,48.7 485.4,48.6 486.0,48.4 486.6,48.2 487.2,48.1 487.7,47.9 488.3,47.8 488.9,47.7 489.5,47.5 490.1,47.4 490.7,47.2 491.2,47.1 491.8,46.9 492.4,46.8 493.0,46.7 493.6,46.5 494.1,46.4 494.7,46.3 495.3,46.1 495.9,46.0 496.5,45.9 497.0,45.7 497.6,45.6 498.2,45.5 498.8,45.3 499.4,45.2 500.0,45.1 500.5,44.9 501.1,44.8 501.7,44.6 502.3,44.5 502.9,44.4 503.4,44.2 504.0,44.1 504.6,44.0 505.2,43.8 505.8,43.7 506.3,43.5 506.9,43.4 507.5,43.2 508.1,43.1 508.7,42.9 509.3,42.8 509.8,42.6 510.4,42.5 511.0,42.3 511.6,42.2 512.2,42.0 512.7,41.9 513.3,41.7 513.9,41.5 514.5,41.4 515.1,41.2 515.6,41.1 516.2,40.9 516.8,40.7 517.4,40.6 518.0,40.4 518.5,40.3 519.1,40.1 519.7,39.9 520.3,39.8 520.9,39.6 521.5,39.4 522.0,39.3 522.6,39.1 523.2,38.9 523.8,38.7 524.4,38.6 524.9,38.4 525.5,38.2 526.1,38.1 526.7,37.9 527.3,37.7 527.8,37.5 528.4,37.4 529.0,37.2 529.6,37.0 530.2,36.8" fill="none" stroke="#0000ff" stroke-width="2.3" stroke-linejoin="round"/>
<path d="M356.0,164.4 356.6,164.2 357.2,164.1 357.8,163.9 358.4,163.8 359.0,163.6 359.6,163.4 360.2,163.2 360.8,163.0 361.4,162.8 361.9,162.6 362.5,162.3 363.1,162.1 363.7,161.8 364.3,161.5 364.9,161.3 365.5,161.0 366.0,160.7 366.6,160.4 367.2,160.1 367.8,159.8 368.4,159.5 368.9,159.1 369.5,158.8 370.1,158.5 370.7,158.2 371.3,157.8 371.9,157.4 372.4,157.0 373.0,156.6 373.6,156.2 374.2,155.7 374.8,155.3 375.4,154.8 375.9,154.3 376.5,153.8 377.1,153.3 377.7,152.8 378.2,152.2 378.8,151.7 379.4,151.1 380.0,150.5 380.5,150.0 381.1,149.4 381.7,148.8 382.3,148.2 382.8,147.6 383.4,147.0 384.0,146.4 384.6,145.8 385.1,145.2 385.7,144.6 386.3,144.0 386.8,143.4 387.4,142.8 388.0,142.1 388.6,141.5 389.1,140.9 389.7,140.2 390.3,139.5 390.9,138.8 391.4,138.1 392.0,137.4 392.6,136.6 393.1,135.8 393.7,134.9 394.3,134.1 394.9,133.1 395.4,132.1 396.0,131.1 396.6,130.0 397.1,128.9 397.7,127.7 398.3,126.5 398.8,125.3 399.4,124.0 400.0,122.6 400.6,121.1 401.2,119.4 401.8,117.8 402.4,116.0 403.0,114.3 403.6,112.6 404.2,110.9 404.8,109.3 405.4,107.8 406.0,106.4 406.6,104.9 407.2,103.5 407.8,102.1 408.4,100.7 408.9,99.3 409.5,97.9 410.1,96.5 410.7,95.3 411.3,94.2 411.9,93.1 412.5,92.2 413.1,91.3 413.7,90.4 414.3,89.5 414.9,88.6 415.4,87.6 416.0,86.6 416.6,85.6 417.2,84.6 417.7,83.6 418.3,82.7 418.9,81.9 419.4,81.1 420.0,80.5 420.5,80.0 421.1,79.6 421.7,79.2 422.2,78.8 422.8,78.4 423.4,78.1 423.9,77.7 424.5,77.4 425.1,77.1 425.7,76.9 426.2,76.6 426.8,76.3 427.4,76.1 428.0,75.8 428.5,75.6 429.1,75.3 429.7,75.1 430.3,74.8 430.9,74.6 431.4,74.3 432.0,74.0 432.6,73.8 433.2,73.6 433.7,73.3 434.3,73.1 434.9,72.8 435.5,72.6 436.1,72.4 436.6,72.2 437.2,71.9 437.8,71.7 438.4,71.5 438.9,71.3 439.5,71.1 440.1,70.9 440.7,70.7 441.3,70.6 441.8,70.4 442.4,70.2 443.0,70.1" fill="none" stroke="#0000ff" stroke-width="2.3" stroke-linejoin="round"/>
<path d="M356.4,164.8 356.9,164.6 357.5,164.3 358.1,164.1 358.7,163.9 359.3,163.7 359.8,163.5 360.4,163.3 361.0,163.1 361.6,162.9 362.2,162.7 362.7,162.5 363.3,162.3 363.9,162.1 364.5,161.9 365.0,161.7 365.6,161.6 366.2,161.4 366.8,161.2 367.3,161.0 367.9,160.9 368.5,160.7 369.1,160.5 369.6,160.3 370.2,160.2 370.8,160.0 371.4,159.9 371.9,159.7 372.5,159.6 373.1,159.4 373.7,159.3 374.2,159.1 374.8,159.0 375.4,158.9 376.0,158.7 376.5,158.6 377.1,158.5 377.7,158.4 378.3,158.2 378.9,158.1 379.4,158.0 380.0,157.9 380.6,157.7 381.2,157.6 381.8,157.5 382.3,157.4 382.9,157.2 383.5,157.1 384.1,157.0 384.7,156.9 385.3,156.7 385.9,156.6 386.4,156.5 387.0,156.3 387.6,156.2 388.2,156.1 388.8,155.9 389.4,155.8 390.0,155.6 390.6,155.5 391.2,155.3 391.7,155.2 392.3,155.0 392.9,154.8 393.5,154.7 394.1,154.5 394.7,154.4 395.3,154.2 395.8,154.1 396.4,153.9 397.0,153.7 397.6,153.6 398.2,153.4 398.8,153.3 399.3,153.1 399.9,152.9 400.5,152.8 401.1,152.6 401.7,152.4 402.3,152.3 402.9,152.1 403.4,151.9 404.0,151.7 404.6,151.6 405.2,151.4 405.8,151.2 406.4,151.0 407.0,150.9 407.6,150.7 408.1,150.5 408.7,150.3 409.3,150.1 409.9,149.9 410.5,149.7 411.1,149.5 411.7,149.3 412.3,149.1 412.8,148.9 413.4,148.7 414.0,148.5 414.6,148.3 415.2,148.1 415.8,147.9 416.4,147.7 417.0,147.5 417.6,147.3 418.2,147.0 418.7,146.8 419.3,146.6 419.9,146.3 420.5,146.1 421.1,145.9 421.7,145.6 422.3,145.3 423.0,145.1 423.6,144.8 424.2,144.5 424.8,144.2 425.4,143.9 425.9,143.6 426.5,143.3 427.1,142.9 427.7,142.6 428.3,142.3 428.9,142.0 429.5,141.7 430.0,141.4 430.6,141.1 431.2,140.8 431.7,140.5 432.3,140.2 432.9,140.0 433.5,139.7 434.1,139.4 434.6,139.1 435.2,138.8 435.8,138.6 436.4,138.3 437.0,138.0 437.5,137.7 438.1,137.4 438.7,137.2 439.3,136.9 439.9,136.6 440.5,136.3 441.1,136.0 441.7,135.7 442.2,135.4 442.8,135.2 443.4,134.9 444.0,134.6 444.6,134.3 445.1,134.0 445.7,133.7 446.3,133.4 446.9,133.1 447.6,132.8 448.2,132.4 448.8,132.0 449.4,131.7 450.0,131.3 450.6,130.9 451.2,130.5 451.8,130.1 452.4,129.6 453.0,129.2 453.7,128.7 454.3,128.2 454.9,127.7 455.5,127.2 456.1,126.6 456.7,126.0 457.3,125.5 457.9,124.8 458.6,124.2 459.2,123.5 459.8,122.9 460.4,122.1 461.0,121.4 461.6,120.6 462.2,119.8 462.8,119.0 463.4,118.1 464.0,117.2 464.6,116.3 465.1,115.3 465.7,114.3 466.3,113.3 466.9,112.1 467.5,111.0 468.1,109.7 468.7,108.5 469.2,107.3 469.8,106.1 470.4,104.8 470.9,103.5 471.5,102.2 472.1,100.9 472.6,99.6 473.2,98.4 473.8,97.1 474.3,95.9 474.9,94.7 475.5,93.4 476.0,92.2 476.6,91.0 477.2,89.8 477.7,88.6 478.3,87.4 478.9,86.2 479.4,85.1 480.0,83.9 480.6,82.7 481.1,81.6 481.7,80.5 482.2,79.4 482.8,78.3 483.4,77.2 483.9,76.2 484.5,75.2 485.0,74.1 485.6,73.1 486.2,72.2 486.7,71.2 487.3,70.2 487.9,69.3 488.4,68.4 489.0,67.5 489.5,66.6 490.1,65.7 490.6,64.9 491.2,64.0 491.8,63.2 492.3,62.4 492.9,61.6 493.4,60.9 494.0,60.1 494.5,59.4 495.1,58.7 495.7,58.0 496.2,57.3 496.8,56.6 497.3,55.9 497.9,55.3 498.4,54.7 499.0,54.1 499.5,53.5 500.1,53.0 500.6,52.5 501.2,52.1 501.7,51.6 502.3,51.2 502.8,50.8 503.4,50.4 503.9,50.0 504.5,49.6 505.1,49.2 505.6,48.9 506.2,48.5 506.7,48.2 507.3,47.8 507.9,47.5 508.5,47.2 509.0,46.8 509.6,46.5 510.2,46.2 510.7,45.8 511.3,45.5 511.9,45.2 512.4,44.9 513.0,44.5 513.6,44.2 514.1,43.9 514.7,43.6 515.3,43.3 515.9,43.0 516.4,42.8 517.0,42.5 517.6,42.2 518.1,41.9 518.7,41.6 519.3,41.4 519.9,41.1 520.4,40.8 521.0,40.6 521.6,40.3 522.1,40.1 522.7,39.8 523.3,39.6 523.9,39.3 524.4,39.1 525.0,38.8 525.6,38.6 526.2,38.4 526.7,38.1 527.3,37.9 527.9,37.7 528.4,37.5 529.0,37.2 529.6,37.0 530.2,36.8" fill="none" stroke="#0000ff" stroke-width="2.3" stroke-linejoin="round"/>
<path d="M444.1,62.9 444.6,62.6 445.2,62.3 445.8,62.0 446.4,61.6 447.0,61.3 447.6,60.9 448.2,60.6 448.8,60.2 449.4,59.9 450.0,59.5 450.5,59.1 451.1,58.8 451.7,58.4 452.3,58.1 452.8,57.7 453.4,57.4 454.0,57.1 454.5,56.8 455.1,56.5 455.7,56.2 456.2,55.9 456.8,55.7 457.4,55.4 458.0,55.1 458.5,54.9 459.1,54.6 459.7,54.4 460.3,54.1 460.8,53.9 461.4,53.6 462.0,53.4 462.6,53.1 463.2,52.9 463.7,52.6 464.3,52.4 464.9,52.1 465.5,51.9 466.1,51.6 466.6,51.4 467.2,51.1 467.8,50.9 468.4,50.6 468.9,50.4 469.5,50.1 470.1,49.9 470.7,49.7 471.2,49.4 471.8,49.2 472.4,49.0 473.0,48.8 473.5,48.6 474.1,48.4 474.7,48.2 475.2,48.1 475.8,47.9 476.4,47.7 477.0,47.5 477.6,47.3 478.1,47.2 478.7,47.0 479.3,46.8 479.9,46.7 480.4,46.5 481.0,46.3 481.6,46.2 482.2,46.0 482.8,45.9 483.3,45.7 483.9,45.5 484.5,45.4 485.1,45.2 485.7,45.1 486.2,44.9 486.8,44.8 487.4,44.6 488.0,44.4 488.6,44.3 489.1,44.1 489.7,43.9 490.3,43.8 490.9,43.6 491.4,43.5 492.0,43.3 492.6,43.2 493.2,43.0 493.8,42.8 494.3,42.7 494.9,42.5 495.5,42.4 496.1,42.2 496.7,42.1 497.2,41.9 497.8,41.8 498.4,41.6 499.0,41.5 499.6,41.3 500.1,41.2 500.7,41.0 501.3,40.9 501.9,40.7 502.4,40.6 503.0,40.4 503.6,40.3 504.2,40.1 504.8,40.0 505.3,39.9 505.9,39.7 506.5,39.6 507.1,39.4 507.7,39.3 508.2,39.1 508.8,39.0 509.4,38.9 510.0,38.7 510.6,38.6 511.1,38.4 511.7,38.3 512.3,38.2 512.9,38.0 513.4,37.9 514.0,37.7 514.6,37.6 515.2,37.5 515.8,37.3 516.3,37.2 516.9,37.1 517.5,36.9 518.1,36.8 518.7,36.7 519.2,36.5 519.8,36.4 520.4,36.3 521.0,36.1 521.6,36.0 522.1,35.9 522.7,35.8 523.3,35.6 523.9,35.5 524.5,35.4 525.0,35.3 525.6,35.1 526.2,35.0 526.8,34.9 527.4,34.7 527.9,34.6 528.5,34.5 529.1,34.4 529.7,34.3 530.2,34.1" fill="none" stroke="#00ff00" stroke-width="2.3" stroke-linejoin="round"/>
<path d="M356.1,169.4 356.7,169.3 357.3,169.1 357.9,168.9 358.5,168.7 359.1,168.5 359.7,168.3 360.3,168.1 360.9,167.9 361.5,167.7 362.1,167.4 362.7,167.2 363.3,166.9 363.9,166.7 364.5,166.4 365.1,166.2 365.7,165.9 366.3,165.6 366.9,165.3 367.5,165.0 368.1,164.7 368.7,164.3 369.3,164.0 369.9,163.7 370.5,163.3 371.1,162.9 371.7,162.6 372.3,162.2 372.9,161.8 373.4,161.4 374.0,161.0 374.6,160.6 375.2,160.2 375.8,159.7 376.4,159.3 377.0,158.8 377.6,158.4 378.2,157.9 378.8,157.4 379.4,156.9 380.0,156.4 380.6,155.9 381.2,155.4 381.8,154.8 382.4,154.3 383.0,153.7 383.6,153.1 384.2,152.5 384.8,151.9 385.4,151.3 386.0,150.7 386.5,150.1 387.1,149.5 387.7,148.8 388.3,148.1 388.9,147.5 389.5,146.8 390.1,146.1 390.7,145.4 391.3,144.7 391.9,144.0 392.5,143.3 393.1,142.6 393.7,141.8 394.2,141.1 394.8,140.3 395.4,139.5 396.0,138.7 396.6,137.9 397.2,137.0 397.8,136.2 398.4,135.3 399.0,134.4 399.6,133.4 400.2,132.5 400.8,131.5 401.4,130.5 402.0,129.4 402.6,128.4 403.2,127.3 403.8,126.1 404.4,124.9 404.9,123.5 405.5,122.1 406.1,120.7 406.7,119.2 407.3,117.7 407.9,116.1 408.5,114.5 409.1,112.9 409.6,111.4 410.2,109.8 410.8,108.2 411.4,106.6 412.0,104.9 412.5,103.3 413.1,101.8 413.7,100.3 414.3,98.8 414.8,97.3 415.4,95.9 416.0,94.5 416.6,93.2 417.1,91.8 417.7,90.6 418.3,89.4 418.8,88.2 419.4,87.0 420.0,85.9 420.5,84.9 421.1,83.8 421.7,82.8 422.2,81.8 422.8,80.8 423.4,79.9 423.9,79.0 424.5,78.1 425.0,77.3 425.6,76.6 426.2,75.9 426.7,75.2 427.3,74.5 427.8,73.9 428.4,73.2 428.9,72.7 429.4,72.2 429.9,71.8 430.4,71.4 430.9,71.1 431.5,70.7 432.0,70.4 432.6,70.0 433.2,69.7 433.7,69.4 434.3,69.1 434.8,68.8 435.4,68.5 436.0,68.2 436.5,67.9 437.1,67.7 437.6,67.4 438.2,67.2 438.7,67.0 439.2,66.8 439.8,66.7 440.3,66.5 440.9,66.4 441.4,66.3 441.9,66.2 442.5,66.2 443.0,66.2" fill="none" stroke="#00ff00" stroke-width="2.3" stroke-linejoin="round"/>
<path d="M356.2,169.8 356.8,169.6 357.4,169.5 357.9,169.3 358.5,169.1 359.1,168.9 359.6,168.7 360.2,168.5 360.8,168.4 361.4,168.2 361.9,168.0 362.5,167.8 363.1,167.6 363.6,167.4 364.2,167.2 364.8,167.1 365.4,166.9 365.9,166.7 366.5,166.5 367.1,166.3 367.6,166.1 368.2,166.0 368.8,165.8 369.4,165.6 369.9,165.4 370.5,165.2 371.1,165.0 371.6,164.9 372.2,164.7 372.8,164.5 373.4,164.3 373.9,164.1 374.5,164.0 375.1,163.8 375.6,163.6 376.2,163.4 376.8,163.2 377.4,163.1 377.9,162.9 378.5,162.7 379.1,162.5 379.6,162.3 380.2,162.2 380.8,162.0 381.4,161.8 381.9,161.6 382.5,161.5 383.1,161.3 383.7,161.1 384.2,160.9 384.8,160.8 385.4,160.6 385.9,160.4 386.5,160.2 387.1,160.0 387.7,159.8 388.2,159.7 388.8,159.5 389.4,159.3 390.0,159.1 390.5,158.9 391.1,158.7 391.7,158.6 392.2,158.4 392.8,158.2 393.4,158.0 394.0,157.8 394.5,157.6 395.1,157.5 395.7,157.3 396.3,157.1 396.8,156.9 397.4,156.7 398.0,156.5 398.5,156.4 399.1,156.2 399.7,156.0 400.3,155.9 400.9,155.7 401.4,155.6 402.0,155.4 402.6,155.2 403.2,155.1 403.7,154.9 404.3,154.8 404.9,154.6 405.5,154.4 406.1,154.3 406.6,154.1 407.2,154.0 407.8,153.8 408.4,153.6 408.9,153.5 409.5,153.3 410.1,153.1 410.7,152.9 411.3,152.8 411.8,152.6 412.4,152.4 413.0,152.2 413.6,152.0 414.1,151.9 414.7,151.7 415.3,151.5 415.9,151.3 416.4,151.1 417.0,150.9 417.6,150.7 418.2,150.5 418.7,150.3 419.3,150.1 419.9,149.9 420.5,149.7 421.0,149.4 421.6,149.2 422.2,149.0 422.7,148.7 423.3,148.5 423.9,148.2 424.4,148.0 425.0,147.7 425.6,147.4 426.2,147.2 426.7,146.9 427.3,146.6 427.9,146.3 428.5,146.1 429.1,145.8 429.6,145.5 430.2,145.2 430.8,144.9 431.4,144.7 432.0,144.4 432.5,144.1 433.1,143.9 433.7,143.6 434.3,143.3 434.9,143.0 435.4,142.8 436.0,142.5 436.6,142.2 437.2,141.9 437.7,141.6 438.3,141.3 438.9,141.0 439.4,140.7 440.0,140.4 440.6,140.1 441.1,139.8 441.7,139.5 442.3,139.1 442.9,138.8 443.4,138.4 444.0,138.1 444.6,137.7 445.1,137.4 445.7,137.0 446.3,136.6 446.8,136.2 447.4,135.8 448.0,135.4 448.6,135.0 449.1,134.6 449.7,134.2 450.3,133.8 450.8,133.3 451.4,132.9 452.0,132.4 452.6,132.0 453.1,131.5 453.7,131.1 454.3,130.6 454.8,130.2 455.4,129.7 455.9,129.1 456.5,128.6 457.0,128.0 457.5,127.4 458.1,126.7 458.6,126.0 459.2,125.1 459.8,124.3 460.4,123.4 461.0,122.4 461.6,121.4 462.2,120.4 462.8,119.4 463.4,118.3 464.0,117.2 464.6,116.0 465.2,114.8 465.8,113.5 466.4,112.2 467.0,110.9 467.6,109.6 468.2,108.2 468.8,106.8 469.4,105.2 470.1,103.7 470.7,102.2 471.3,100.8 471.9,99.4 472.5,98.1 473.1,96.8 473.7,95.5 474.4,94.3 475.0,93.0 475.6,91.8 476.2,90.6 476.8,89.4 477.4,88.2 478.0,87.0 478.6,85.8 479.2,84.6 479.8,83.4 480.4,82.3 480.9,81.1 481.5,80.0 482.1,78.9 482.7,77.8 483.3,76.8 483.9,75.7 484.5,74.7 485.1,73.7 485.6,72.6 486.2,71.7 486.8,70.7 487.4,69.8 488.0,68.8 488.6,67.9 489.2,67.1 489.8,66.2 490.3,65.4 490.9,64.6 491.5,63.7 492.1,62.9 492.7,62.1 493.3,61.3 493.9,60.6 494.4,59.8 495.0,58.9 495.6,58.1 496.2,57.3 496.8,56.5 497.4,55.6 498.0,54.8 498.5,54.0 499.1,53.2 499.7,52.4 500.3,51.7 500.9,51.0 501.5,50.3 502.1,49.6 502.7,49.0 503.3,48.4 503.9,47.9 504.4,47.4 505.0,46.9 505.6,46.5 506.2,46.0 506.8,45.6 507.4,45.2 508.0,44.7 508.6,44.3 509.1,43.9 509.7,43.6 510.3,43.2 510.9,42.8 511.5,42.5 512.1,42.1 512.7,41.8 513.2,41.5 513.8,41.1 514.4,40.8 515.0,40.5 515.6,40.2 516.2,39.9 516.7,39.6 517.3,39.3 517.9,39.0 518.5,38.7 519.1,38.4 519.7,38.2 520.2,37.9 520.8,37.6 521.4,37.3 522.0,37.0 522.6,36.8 523.2,36.5 523.8,36.2 524.3,36.0 524.9,35.7 525.5,35.5 526.1,35.3 526.7,35.0 527.3,34.8 527.8,34.6 528.4,34.4 529.0,34.2 529.6,33.9 530.2,33.7" fill="none" stroke="#00ff00" stroke-width="2.3" stroke-linejoin="round"/>
<path d="M443.6,61.9 444.2,61.6 444.7,61.3 445.3,61.0 445.9,60.7 446.5,60.3 447.1,60.0 447.6,59.7 448.2,59.3 448.8,58.9 449.4,58.6 450.0,58.2 450.6,57.9 451.1,57.5 451.7,57.2 452.3,56.8 452.9,56.5 453.5,56.2 454.0,55.9 454.6,55.6 455.2,55.3 455.8,55.0 456.4,54.7 456.9,54.5 457.5,54.2 458.1,53.9 458.7,53.7 459.3,53.4 459.9,53.2 460.4,52.9 461.0,52.7 461.6,52.5 462.2,52.2 462.8,52.0 463.3,51.7 463.9,51.5 464.5,51.2 465.1,51.0 465.7,50.7 466.2,50.5 466.8,50.2 467.4,50.0 468.0,49.7 468.6,49.5 469.2,49.2 469.7,49.0 470.3,48.8 470.9,48.5 471.5,48.3 472.1,48.1 472.6,47.9 473.2,47.7 473.8,47.5 474.4,47.3 475.0,47.1 475.5,47.0 476.1,46.8 476.7,46.6 477.3,46.4 477.9,46.3 478.4,46.1 479.0,45.9 479.6,45.8 480.2,45.6 480.8,45.5 481.4,45.3 481.9,45.1 482.5,45.0 483.1,44.8 483.7,44.7 484.3,44.5 484.8,44.4 485.4,44.2 486.0,44.0 486.6,43.9 487.2,43.7 487.7,43.6 488.3,43.4 488.9,43.3 489.5,43.1 490.1,43.0 490.7,42.8 491.2,42.7 491.8,42.5 492.4,42.4 493.0,42.2 493.6,42.1 494.1,41.9 494.7,41.8 495.3,41.6 495.9,41.5 496.5,41.3 497.0,41.2 497.6,41.0 498.2,40.9 498.8,40.7 499.4,40.6 500.0,40.4 500.5,40.3 501.1,40.2 501.7,40.0 502.3,39.9 502.9,39.7 503.4,39.6 504.0,39.5 504.6,39.3 505.2,39.2 505.8,39.0 506.3,38.9 506.9,38.8 507.5,38.6 508.1,38.5 508.7,38.4 509.3,38.2 509.8,38.1 510.4,38.0 511.0,37.8 511.6,37.7 512.2,37.6 512.7,37.4 513.3,37.3 513.9,37.2 514.5,37.0 515.1,36.9 515.6,36.8 516.2,36.7 516.8,36.5 517.4,36.4 518.0,36.3 518.5,36.2 519.1,36.0 519.7,35.9 520.3,35.8 520.9,35.7 521.5,35.5 522.0,35.4 522.6,35.3 523.2,35.2 523.8,35.0 524.4,34.9 524.9,34.8 525.5,34.7 526.1,34.6 526.7,34.4 527.3,34.3 527.8,34.2 528.4,34.1 529.0,34.0 529.6,33.9 530.2,33.7" fill="none" stroke="#808000" stroke-width="2.3" stroke-linejoin="round"/>
<path d="M355.8,168.3 356.4,168.1 357.0,167.9 357.6,167.8 358.2,167.6 358.7,167.4 359.3,167.2 359.9,167.0 360.5,166.7 361.1,166.5 361.6,166.3 362.2,166.0 362.8,165.8 363.4,165.5 364.0,165.3 364.5,165.0 365.1,164.7 365.7,164.4 366.3,164.2 366.9,163.8 367.5,163.5 368.0,163.2 368.6,162.9 369.2,162.5 369.8,162.2 370.4,161.8 370.9,161.4 371.5,161.1 372.1,160.7 372.7,160.3 373.3,159.9 373.8,159.5 374.4,159.0 375.0,158.6 375.6,158.2 376.2,157.7 376.7,157.3 377.3,156.8 377.9,156.4 378.5,155.9 379.1,155.4 379.7,154.9 380.2,154.3 380.8,153.8 381.4,153.2 382.0,152.7 382.6,152.1 383.1,151.5 383.7,150.9 384.3,150.3 384.9,149.7 385.5,149.1 386.0,148.5 386.6,147.8 387.2,147.2 387.8,146.5 388.4,145.8 389.0,145.2 389.5,144.5 390.1,143.8 390.7,143.1 391.3,142.3 391.9,141.6 392.4,140.9 393.0,140.1 393.6,139.4 394.2,138.6 394.8,137.8 395.3,137.0 395.9,136.1 396.5,135.3 397.1,134.4 397.7,133.5 398.3,132.6 398.8,131.6 399.4,130.7 400.0,129.7 400.6,128.7 401.2,127.6 401.7,126.5 402.3,125.4 402.9,124.2 403.5,122.9 404.1,121.5 404.6,120.1 405.2,118.6 405.8,117.1 406.4,115.5 407.0,114.0 407.6,112.4 408.1,110.8 408.7,109.3 409.3,107.7 409.9,106.1 410.5,104.4 411.0,102.8 411.6,101.2 412.2,99.7 412.8,98.2 413.4,96.7 413.9,95.3 414.5,93.9 415.1,92.5 415.7,91.2 416.3,89.9 416.8,88.7 417.4,87.5 418.0,86.3 418.6,85.2 419.2,84.1 419.8,83.1 420.3,82.0 420.9,81.0 421.5,80.0 422.1,79.1 422.7,78.1 423.2,77.2 423.8,76.4 424.4,75.7 425.0,75.0 425.6,74.2 426.1,73.5 426.7,72.9 427.3,72.2 427.9,71.7 428.5,71.1 429.1,70.6 429.6,70.2 430.2,69.9 430.8,69.5 431.4,69.2 432.0,68.9 432.5,68.6 433.1,68.3 433.7,67.9 434.3,67.7 434.9,67.4 435.4,67.1 436.0,66.8 436.6,66.6 437.2,66.4 437.8,66.1 438.4,65.9 438.9,65.8 439.5,65.6 440.1,65.5 440.7,65.4 441.3,65.3 441.8,65.2 442.4,65.2 443.0,65.2" fill="none" stroke="#808000" stroke-width="2.3" stroke-linejoin="round"/>
<path d="M355.8,168.3 356.4,168.1 357.0,168.0 357.6,167.8 358.2,167.7 358.7,167.5 359.3,167.4 359.9,167.3 360.5,167.1 361.1,167.0 361.6,166.8 362.2,166.7 362.8,166.5 363.4,166.4 364.0,166.2 364.5,166.1 365.1,165.9 365.7,165.8 366.3,165.7 366.9,165.5 367.5,165.4 368.0,165.2 368.6,165.1 369.2,164.9 369.8,164.8 370.4,164.6 370.9,164.5 371.5,164.4 372.1,164.2 372.7,164.1 373.3,163.9 373.8,163.8 374.4,163.6 375.0,163.5 375.6,163.4 376.2,163.2 376.7,163.1 377.3,162.9 377.9,162.8 378.5,162.7 379.1,162.5 379.7,162.4 380.2,162.2 380.8,162.1 381.4,161.9 382.0,161.8 382.6,161.7 383.1,161.5 383.7,161.4 384.3,161.2 384.9,161.1 385.5,160.9 386.0,160.8 386.6,160.6 387.2,160.5 387.8,160.3 388.4,160.2 389.0,160.0 389.5,159.9 390.1,159.7 390.7,159.6 391.3,159.4 391.9,159.3 392.4,159.1 393.0,159.0 393.6,158.8 394.2,158.7 394.8,158.5 395.3,158.4 395.9,158.2 396.5,158.1 397.1,157.9 397.7,157.8 398.3,157.6 398.8,157.5 399.4,157.3 400.0,157.2 400.6,157.0 401.2,156.9 401.7,156.7 402.3,156.6 402.9,156.4 403.5,156.3 404.1,156.1 404.6,156.0 405.2,155.8 405.8,155.6 406.4,155.5 407.0,155.3 407.6,155.2 408.1,155.0 408.7,154.8 409.3,154.7 409.9,154.5 410.5,154.3 411.0,154.1 411.6,154.0 412.2,153.8 412.8,153.6 413.4,153.4 413.9,153.3 414.5,153.1 415.1,152.9 415.7,152.7 416.3,152.5 416.8,152.3 417.4,152.1 418.0,151.9 418.6,151.7 419.2,151.5 419.8,151.3 420.3,151.1 420.9,150.9 421.5,150.7 422.1,150.4 422.7,150.2 423.2,149.9 423.8,149.7 424.4,149.4 425.0,149.2 425.6,148.9 426.1,148.6 426.7,148.4 427.3,148.1 427.9,147.8 428.5,147.5 429.1,147.3 429.6,147.0 430.2,146.7 430.8,146.4 431.4,146.2 432.0,145.9 432.5,145.6 433.1,145.4 433.7,145.1 434.3,144.8 434.9,144.6 435.4,144.3 436.0,144.0 436.6,143.7 437.2,143.4 437.8,143.2 438.4,142.9 438.9,142.6 439.5,142.3 440.1,142.0 440.7,141.7 441.3,141.3 441.8,141.0 442.4,140.7 443.0,140.4 443.6,140.0 444.2,139.7 444.7,139.3 445.3,138.9 445.9,138.6 446.5,138.2 447.1,137.8 447.6,137.4 448.2,137.0 448.8,136.6 449.4,136.2 450.0,135.8 450.6,135.4 451.1,134.9 451.7,134.5 452.3,134.0 452.9,133.6 453.5,133.1 454.0,132.7 454.6,132.2 455.2,131.8 455.8,131.3 456.4,130.8 456.9,130.2 457.5,129.6 458.1,129.0 458.7,128.4 459.3,127.6 459.9,126.8 460.4,126.0 461.0,125.1 461.6,124.1 462.2,123.1 462.8,122.1 463.3,121.0 463.9,120.0 464.5,118.9 465.1,117.7 465.7,116.5 466.2,115.3 466.8,114.0 467.4,112.7 468.0,111.3 468.6,110.0 469.2,108.6 469.7,107.1 470.3,105.6 470.9,104.0 471.5,102.5 472.1,101.1 472.6,99.7 473.2,98.4 473.8,97.1 474.4,95.8 475.0,94.6 475.5,93.3 476.1,92.1 476.7,90.9 477.3,89.7 477.9,88.4 478.4,87.2 479.0,86.0 479.6,84.8 480.2,83.6 480.8,82.5 481.4,81.3 481.9,80.2 482.5,79.1 483.1,78.0 483.7,77.0 484.3,75.9 484.8,74.9 485.4,73.9 486.0,72.9 486.6,71.9 487.2,70.9 487.7,70.0 488.3,69.1 488.9,68.2 489.5,67.3 490.1,66.4 490.7,65.6 491.2,64.8 491.8,64.0 492.4,63.1 493.0,62.3 493.6,61.6 494.1,60.8 494.7,60.0 495.3,59.1 495.9,58.3 496.5,57.5 497.0,56.6 497.6,55.8 498.2,55.0 498.8,54.2 499.4,53.4 500.0,52.6 500.5,51.9 501.1,51.1 501.7,50.5 502.3,49.8 502.9,49.2 503.4,48.6 504.0,48.1 504.6,47.6 505.2,47.1 505.8,46.6 506.3,46.2 506.9,45.8 507.5,45.3 508.1,44.9 508.7,44.5 509.3,44.1 509.8,43.7 510.4,43.4 511.0,43.0 511.6,42.6 512.2,42.3 512.7,41.9 513.3,41.6 513.9,41.3 514.5,41.0 515.1,40.6 515.6,40.3 516.2,40.0 516.8,39.7 517.4,39.4 518.0,39.1 518.5,38.8 519.1,38.5 519.7,38.2 520.3,38.0 520.9,37.7 521.5,37.4 522.0,37.1 522.6,36.8 523.2,36.6 523.8,36.3 524.4,36.0 524.9,35.8 525.5,35.5 526.1,35.3 526.7,35.1 527.3,34.8 527.8,34.6 528.4,34.4 529.0,34.2 529.6,34.0 530.2,33.7" fill="none" stroke="#808000" stroke-width="2.3" stroke-linejoin="round"/></g>
<path d="M71.58,320.67 L112.74,319.81 L153.9,303.25 L195.06,291.13 L236.22,272.12" fill="none" stroke="#ff0000" stroke-width="2.0"/>
<path d="M71.58,329.08 L112.74,330.74 L153.9,322.46 L195.06,298.81 L236.22,275.43" fill="none" stroke="#0000ff" stroke-width="2.0"/>
<circle cx="71.58" cy="320.67" r="4.0" fill="#ff0000"/>
<circle cx="112.74" cy="319.81" r="4.0" fill="#ff0000"/>
<circle cx="153.9" cy="303.25" r="4.0" fill="#ff0000"/>
<circle cx="195.06" cy="291.13" r="4.0" fill="#ff0000"/>
<circle cx="236.22" cy="272.12" r="4.0" fill="#ff0000"/>
<path d="M71.58,324.64 L76.28,333.13 L66.88,333.13 Z" fill="#0000ff"/>
<path d="M112.74,326.3 L117.44,334.78 L108.04,334.78 Z" fill="#0000ff"/>
<path d="M153.9,318.02 L158.6,326.5 L149.2,326.5 Z" fill="#0000ff"/>
<path d="M195.06,294.37 L199.76,302.86 L190.36,302.86 Z" fill="#0000ff"/>
<path d="M236.22,270.99 L240.92,279.47 L231.52,279.47 Z" fill="#0000ff"/>
<path d="M60,262.2h20.6" stroke="#ff0000" stroke-width="2"/>
<circle cx="70.3" cy="262.1" r="4.1" fill="#ff0000"/>
<text x="85.4" y="266.2" font-size="11.2" text-anchor="start" fill="#ff0000" stroke="#ff0000" stroke-width="0.35" font-weight="bold">w. stress</text>
<path d="M60,276.0h20.6" stroke="#0000ff" stroke-width="2"/>
<path d="M70.3,270.56 L75,279.04 L65.6,279.04 Z" fill="#0000ff"/>
<text x="85.4" y="279.8" font-size="11.2" text-anchor="start" fill="#0000ff" stroke="#0000ff" stroke-width="0.35" font-weight="bold">w./o. stress</text>
<path d="M358.99,309.45 L400.17,320.61 L441.35,323.5 L482.53,328.47 L523.71,317.72" fill="none" stroke="#ff0000" stroke-width="2.0"/>
<path d="M358.99,311.6 L400.17,314.41 L441.35,311.6 L482.53,321.02 L523.71,310.27" fill="none" stroke="#0000ff" stroke-width="2.0"/>
<rect x="355.39" y="305.85" width="7.2" height="7.2" fill="#ff0000"/>
<rect x="396.57" y="317.01" width="7.2" height="7.2" fill="#ff0000"/>
<rect x="437.75" y="319.9" width="7.2" height="7.2" fill="#ff0000"/>
<rect x="478.93" y="324.87" width="7.2" height="7.2" fill="#ff0000"/>
<rect x="520.11" y="314.12" width="7.2" height="7.2" fill="#ff0000"/>
<circle cx="358.99" cy="311.6" r="4.0" fill="#0000ff"/>
<circle cx="400.17" cy="314.41" r="4.0" fill="#0000ff"/>
<circle cx="441.35" cy="311.6" r="4.0" fill="#0000ff"/>
<circle cx="482.53" cy="321.02" r="4.0" fill="#0000ff"/>
<circle cx="523.71" cy="310.27" r="4.0" fill="#0000ff"/>
<path d="M345,254h26" stroke="#ff0000" stroke-width="2"/>
<rect x="354.5" y="250.3" width="7.4" height="7.4" fill="#ff0000"/>
<text x="373.5" y="257.8" font-size="11.2" text-anchor="start" fill="#ff0000" stroke="#ff0000" stroke-width="0.35" font-weight="bold">w. stress</text>
<path d="M345,268h26" stroke="#0000ff" stroke-width="2"/>
<circle cx="358" cy="268" r="4.0" fill="#0000ff"/>
<text x="373.5" y="271.6" font-size="11.2" text-anchor="start" fill="#0000ff" stroke="#0000ff" stroke-width="0.35" font-weight="bold">w./o. stress</text>
</svg>
</body></html>
